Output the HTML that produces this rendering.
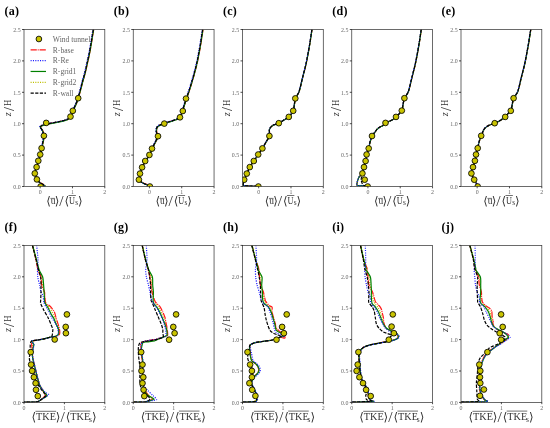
<!DOCTYPE html>
<html><head><meta charset="utf-8"><title>Profiles</title>
<style>
html,body{margin:0;padding:0;background:#fff;}
svg{display:block;filter:blur(0.35px);}
text{font-family:'Liberation Serif','DejaVu Serif',serif;}
.tk{font-size:5.9px;fill:#666;}
.pl{font-size:12px;font-weight:bold;fill:#000;letter-spacing:0.3px;}
.al{font-size:10.2px;fill:#333;}
.lg{font-size:7.6px;fill:#666;}
.br{font-family:'DejaVu Serif',serif;font-size:11.8px;fill:#333;}
.sl{font-size:15.5px;fill:#333;}
.sly{font-size:14px;fill:#333;}
.sb{font-size:7.4px;fill:#333;}
</style></head><body>
<svg width="550" height="428" viewBox="0 0 550 428">
<rect width="550" height="428" fill="#fff"/>
<clipPath id="c00"><rect x="24.0" y="29.5" width="80.8" height="157.0"/></clipPath>
<g clip-path="url(#c00)">
<path d="M93.40,29.50 C93.25,30.37 92.62,34.07 92.30,36.00 C91.98,37.93 91.41,41.60 91.00,44.00 C90.59,46.40 89.71,51.47 89.20,54.00 C88.69,56.53 87.73,60.60 87.20,63.00 C86.67,65.40 85.84,69.47 85.20,72.00 C84.56,74.53 83.05,79.60 82.40,82.00 C81.75,84.40 80.81,88.27 80.35,90.00 C79.89,91.73 79.22,93.91 78.95,95.00 C78.68,96.09 78.73,96.93 78.30,98.20 C77.87,99.47 76.39,102.86 75.70,104.50 C75.01,106.14 73.71,109.03 73.10,110.50 C72.49,111.97 71.59,114.53 71.10,115.50 C70.61,116.47 69.97,117.25 69.40,117.80 C68.83,118.35 68.09,119.11 66.80,119.60 C65.51,120.09 61.93,121.01 59.70,121.50 C57.47,121.99 51.89,122.97 50.10,123.30 C48.31,123.63 47.34,123.73 46.30,124.00 C45.26,124.27 43.13,124.91 42.30,125.30 C41.47,125.69 40.10,126.25 40.10,126.90 C40.10,127.55 41.78,129.01 42.30,130.20 C42.82,131.39 43.92,134.23 44.00,135.80 C44.08,137.37 43.21,140.35 42.90,142.00 C42.59,143.65 42.05,146.53 41.70,148.20 C41.35,149.87 40.74,152.82 40.30,154.50 C39.86,156.18 38.88,159.12 38.40,160.80 C37.92,162.48 37.17,165.42 36.70,167.10 C36.23,168.78 34.86,171.76 34.90,173.40 C34.94,175.04 36.35,178.20 37.00,179.40 C37.65,180.60 38.79,181.59 39.80,182.40 C40.81,183.21 43.89,184.97 44.60,185.50 C45.31,186.03 45.03,186.28 45.10,186.40" fill="none" stroke="#bfbf00" stroke-width="1.2" stroke-linejoin="round" stroke-dasharray="1.05 1.3"/>
<path d="M93.75,29.50 C93.60,30.37 92.97,34.07 92.65,36.00 C92.33,37.93 91.76,41.60 91.35,44.00 C90.94,46.40 90.06,51.47 89.55,54.00 C89.04,56.53 88.08,60.60 87.55,63.00 C87.02,65.40 86.19,69.47 85.55,72.00 C84.91,74.53 83.40,79.60 82.75,82.00 C82.10,84.40 81.16,88.27 80.70,90.00 C80.24,91.73 79.57,93.91 79.30,95.00 C79.03,96.09 79.08,96.93 78.65,98.20 C78.22,99.47 76.74,102.86 76.05,104.50 C75.36,106.14 74.06,109.03 73.45,110.50 C72.84,111.97 71.94,114.53 71.45,115.50 C70.96,116.47 70.32,117.25 69.75,117.80 C69.18,118.35 68.44,119.11 67.15,119.60 C65.86,120.09 62.28,121.01 60.05,121.50 C57.82,121.99 52.24,122.97 50.45,123.30 C48.66,123.63 47.69,123.73 46.65,124.00 C45.61,124.27 43.48,124.91 42.65,125.30 C41.82,125.69 40.45,126.25 40.45,126.90 C40.45,127.55 42.13,129.01 42.65,130.20 C43.17,131.39 44.27,134.23 44.35,135.80 C44.43,137.37 43.56,140.35 43.25,142.00 C42.94,143.65 42.40,146.53 42.05,148.20 C41.70,149.87 41.09,152.82 40.65,154.50 C40.21,156.18 39.23,159.12 38.75,160.80 C38.27,162.48 37.52,165.42 37.05,167.10 C36.58,168.78 35.21,171.76 35.25,173.40 C35.29,175.04 36.70,178.20 37.35,179.40 C38.00,180.60 39.14,181.59 40.15,182.40 C41.16,183.21 44.24,184.97 44.95,185.50 C45.66,186.03 45.38,186.28 45.45,186.40" fill="none" stroke="#ff1a1a" stroke-width="1.2" stroke-linejoin="round" stroke-dasharray="6.2 0.9 1.0 0.9"/>
<path d="M93.55,29.80 C93.40,30.67 92.77,34.37 92.45,36.30 C92.13,38.23 91.56,41.90 91.15,44.30 C90.74,46.70 89.86,51.77 89.35,54.30 C88.84,56.83 87.88,60.90 87.35,63.30 C86.82,65.70 85.99,69.77 85.35,72.30 C84.71,74.83 83.20,79.90 82.55,82.30 C81.90,84.70 80.96,88.57 80.50,90.30 C80.04,92.03 79.37,94.21 79.10,95.30 C78.83,96.39 78.88,97.23 78.45,98.50 C78.02,99.77 76.54,103.16 75.85,104.80 C75.16,106.44 73.86,109.33 73.25,110.80 C72.64,112.27 71.74,114.83 71.25,115.80 C70.76,116.77 70.12,117.55 69.55,118.10 C68.98,118.65 68.24,119.41 66.95,119.90 C65.66,120.39 62.08,121.31 59.85,121.80 C57.62,122.29 52.04,123.27 50.25,123.60 C48.46,123.93 47.49,124.03 46.45,124.30 C45.41,124.57 43.28,125.21 42.45,125.60 C41.62,125.99 40.25,126.55 40.25,127.20 C40.25,127.85 41.93,129.31 42.45,130.50 C42.97,131.69 44.07,134.53 44.15,136.10 C44.23,137.67 43.36,140.65 43.05,142.30 C42.74,143.95 42.20,146.83 41.85,148.50 C41.50,150.17 40.89,153.12 40.45,154.80 C40.01,156.48 39.03,159.42 38.55,161.10 C38.07,162.78 37.32,165.72 36.85,167.40 C36.38,169.08 35.01,172.06 35.05,173.70 C35.09,175.34 36.50,178.50 37.15,179.70 C37.80,180.90 38.94,181.89 39.95,182.70 C40.96,183.51 44.04,185.27 44.75,185.80 C45.46,186.33 45.18,186.58 45.25,186.70" fill="none" stroke="#008000" stroke-width="1.2" stroke-linejoin="round"/>
<path d="M92.90,29.50 C92.75,30.37 92.12,34.07 91.80,36.00 C91.48,37.93 90.91,41.60 90.50,44.00 C90.09,46.40 89.21,51.47 88.70,54.00 C88.19,56.53 87.23,60.60 86.70,63.00 C86.17,65.40 85.34,69.47 84.70,72.00 C84.06,74.53 82.55,79.60 81.90,82.00 C81.25,84.40 80.31,88.27 79.85,90.00 C79.39,91.73 78.72,93.91 78.45,95.00 C78.18,96.09 78.23,96.93 77.80,98.20 C77.37,99.47 75.89,102.86 75.20,104.50 C74.51,106.14 73.21,109.03 72.60,110.50 C71.99,111.97 71.09,114.53 70.60,115.50 C70.11,116.47 69.47,117.25 68.90,117.80 C68.33,118.35 67.59,119.11 66.30,119.60 C65.01,120.09 61.43,121.01 59.20,121.50 C56.97,121.99 51.39,122.97 49.60,123.30 C47.81,123.63 46.84,123.73 45.80,124.00 C44.76,124.27 42.63,124.91 41.80,125.30 C40.97,125.69 39.60,126.25 39.60,126.90 C39.60,127.55 41.28,129.01 41.80,130.20 C42.32,131.39 43.42,134.23 43.50,135.80 C43.58,137.37 42.71,140.35 42.40,142.00 C42.09,143.65 41.55,146.53 41.20,148.20 C40.85,149.87 40.24,152.82 39.80,154.50 C39.36,156.18 38.38,159.12 37.90,160.80 C37.42,162.48 36.67,165.42 36.20,167.10 C35.73,168.78 34.36,171.76 34.40,173.40 C34.44,175.04 35.85,178.20 36.50,179.40 C37.15,180.60 38.29,181.59 39.30,182.40 C40.31,183.21 43.39,184.97 44.10,185.50 C44.81,186.03 44.53,186.28 44.60,186.40" fill="none" stroke="#1a1aff" stroke-width="1.2" stroke-linejoin="round" stroke-dasharray="1.05 1.3"/>
<path d="M93.30,29.50 C93.15,30.37 92.52,34.07 92.20,36.00 C91.88,37.93 91.31,41.60 90.90,44.00 C90.49,46.40 89.61,51.47 89.10,54.00 C88.59,56.53 87.63,60.60 87.10,63.00 C86.57,65.40 85.74,69.47 85.10,72.00 C84.46,74.53 82.95,79.60 82.30,82.00 C81.65,84.40 80.71,88.27 80.25,90.00 C79.79,91.73 79.12,93.91 78.85,95.00 C78.58,96.09 78.63,96.93 78.20,98.20 C77.77,99.47 76.29,102.86 75.60,104.50 C74.91,106.14 73.61,109.03 73.00,110.50 C72.39,111.97 71.49,114.53 71.00,115.50 C70.51,116.47 69.87,117.25 69.30,117.80 C68.73,118.35 67.99,119.11 66.70,119.60 C65.41,120.09 61.83,121.01 59.60,121.50 C57.37,121.99 51.79,122.97 50.00,123.30 C48.21,123.63 47.24,123.73 46.20,124.00 C45.16,124.27 43.03,124.91 42.20,125.30 C41.37,125.69 40.00,126.25 40.00,126.90 C40.00,127.55 41.68,129.01 42.20,130.20 C42.72,131.39 43.82,134.23 43.90,135.80 C43.98,137.37 43.11,140.35 42.80,142.00 C42.49,143.65 41.95,146.53 41.60,148.20 C41.25,149.87 40.64,152.82 40.20,154.50 C39.76,156.18 38.78,159.12 38.30,160.80 C37.82,162.48 37.07,165.42 36.60,167.10 C36.13,168.78 34.76,171.76 34.80,173.40 C34.84,175.04 36.25,178.20 36.90,179.40 C37.55,180.60 38.69,181.59 39.70,182.40 C40.71,183.21 43.79,184.97 44.50,185.50 C45.21,186.03 44.93,186.28 45.00,186.40" fill="none" stroke="#000000" stroke-width="1.2" stroke-linejoin="round" stroke-dasharray="3.2 1.4"/>
<g fill="#cac400" stroke="#000" stroke-width="0.85"><circle cx="78.20" cy="98.20" r="2.85"/><circle cx="72.80" cy="110.80" r="2.85"/><circle cx="70.50" cy="116.60" r="2.85"/><circle cx="46.20" cy="122.90" r="2.85"/><circle cx="43.90" cy="135.80" r="2.85"/><circle cx="41.60" cy="148.20" r="2.85"/><circle cx="40.20" cy="154.50" r="2.85"/><circle cx="38.30" cy="160.80" r="2.85"/><circle cx="36.60" cy="167.10" r="2.85"/><circle cx="34.80" cy="173.40" r="2.85"/><circle cx="36.90" cy="179.40" r="2.85"/><circle cx="40.60" cy="186.50" r="2.85"/></g>
</g>
<rect x="24.0" y="29.5" width="80.8" height="157.0" fill="none" stroke="#3a3a3a" stroke-width="0.75"/>
<line x1="22.0" y1="186.50" x2="24.0" y2="186.50" stroke="#000" stroke-width="0.7"/>
<text x="20.70" y="188.70" text-anchor="end" class="tk">0.0</text>
<line x1="22.0" y1="155.10" x2="24.0" y2="155.10" stroke="#000" stroke-width="0.7"/>
<text x="20.70" y="157.30" text-anchor="end" class="tk">0.5</text>
<line x1="22.0" y1="123.70" x2="24.0" y2="123.70" stroke="#000" stroke-width="0.7"/>
<text x="20.70" y="125.90" text-anchor="end" class="tk">1.0</text>
<line x1="22.0" y1="92.30" x2="24.0" y2="92.30" stroke="#000" stroke-width="0.7"/>
<text x="20.70" y="94.50" text-anchor="end" class="tk">1.5</text>
<line x1="22.0" y1="60.90" x2="24.0" y2="60.90" stroke="#000" stroke-width="0.7"/>
<text x="20.70" y="63.10" text-anchor="end" class="tk">2.0</text>
<line x1="22.0" y1="29.50" x2="24.0" y2="29.50" stroke="#000" stroke-width="0.7"/>
<text x="20.70" y="31.70" text-anchor="end" class="tk">2.5</text>
<line x1="40.16" y1="186.5" x2="40.16" y2="188.3" stroke="#000" stroke-width="0.7"/>
<text x="40.16" y="193.80" text-anchor="middle" class="tk">0</text>
<line x1="72.48" y1="186.5" x2="72.48" y2="188.3" stroke="#000" stroke-width="0.7"/>
<text x="72.48" y="193.80" text-anchor="middle" class="tk">1</text>
<line x1="104.80" y1="186.5" x2="104.80" y2="188.3" stroke="#000" stroke-width="0.7"/>
<text x="104.80" y="193.80" text-anchor="middle" class="tk">2</text>
<text x="4.40" y="14.90" class="pl">(a)</text>
<g transform="translate(11.20 108.10) rotate(-90)"><text x="-8.1" y="0" class="al" font-style="italic">z</text><text x="-3.0" y="2.4" class="sly">/</text><text x="2.2" y="0" class="al" textLength="6.3" lengthAdjust="spacingAndGlyphs">H</text></g>
<text x="46.15" y="205.10" class="br">⟨</text>
<text x="50.85" y="204.00" class="al" textLength="4.7" lengthAdjust="spacingAndGlyphs">u</text>
<text x="54.65" y="205.10" class="br">⟩</text>
<text x="59.25" y="206.20" class="sl">/</text>
<text x="64.45" y="205.10" class="br">⟨</text>
<text x="68.90" y="204.00" class="al" textLength="6.0" lengthAdjust="spacingAndGlyphs">U</text>
<text x="75.30" y="204.70" class="sb">s</text>
<text x="78.05" y="205.10" class="br">⟩</text>
<line x1="50.45" y1="198.40" x2="55.05" y2="198.40" stroke="#333" stroke-width="0.7"/>
<line x1="68.45" y1="195.50" x2="75.85" y2="195.50" stroke="#333" stroke-width="0.7"/>
<clipPath id="c01"><rect x="133.25" y="29.5" width="80.8" height="157.0"/></clipPath>
<g clip-path="url(#c01)">
<path d="M202.70,29.50 C202.39,31.53 201.12,40.50 200.40,44.70 C199.68,48.90 198.18,56.95 197.30,61.00 C196.42,65.05 194.83,71.35 193.80,75.10 C192.77,78.85 190.59,85.99 189.60,89.10 C188.61,92.21 187.09,96.35 186.40,98.40 C185.71,100.45 184.91,102.87 184.40,104.50 C183.89,106.13 183.15,108.92 182.60,110.60 C182.05,112.28 181.05,115.97 180.30,117.10 C179.55,118.23 178.12,118.59 177.00,119.10 C175.88,119.61 173.06,120.51 171.90,120.90 C170.74,121.29 169.30,121.67 168.30,122.00 C167.30,122.33 165.47,123.01 164.40,123.40 C163.33,123.79 161.14,124.55 160.30,124.90 C159.46,125.25 158.59,125.56 158.10,126.00 C157.61,126.44 156.84,127.52 156.60,128.20 C156.36,128.88 156.25,130.33 156.30,131.10 C156.35,131.87 156.76,133.32 157.00,134.00 C157.24,134.68 158.35,135.07 158.10,136.20 C157.85,137.33 155.90,140.85 155.10,142.50 C154.30,144.15 152.85,146.95 152.10,148.60 C151.35,150.25 150.41,153.25 149.50,154.90 C148.59,156.55 146.27,159.35 145.30,161.00 C144.33,162.65 142.89,165.62 142.20,167.30 C141.51,168.98 140.53,171.95 140.10,173.60 C139.67,175.25 138.60,178.45 139.00,179.70 C139.40,180.95 141.63,182.17 143.10,183.00 C144.57,183.83 149.08,185.51 150.00,185.90" fill="none" stroke="#bfbf00" stroke-width="1.2" stroke-linejoin="round" stroke-dasharray="1.05 1.3"/>
<path d="M203.05,29.50 C202.74,31.53 201.47,40.50 200.75,44.70 C200.03,48.90 198.53,56.95 197.65,61.00 C196.77,65.05 195.18,71.35 194.15,75.10 C193.12,78.85 190.94,85.99 189.95,89.10 C188.96,92.21 187.44,96.35 186.75,98.40 C186.06,100.45 185.26,102.87 184.75,104.50 C184.24,106.13 183.50,108.92 182.95,110.60 C182.40,112.28 181.40,115.97 180.65,117.10 C179.90,118.23 178.47,118.59 177.35,119.10 C176.23,119.61 173.41,120.51 172.25,120.90 C171.09,121.29 169.65,121.67 168.65,122.00 C167.65,122.33 165.82,123.01 164.75,123.40 C163.68,123.79 161.49,124.55 160.65,124.90 C159.81,125.25 158.94,125.56 158.45,126.00 C157.96,126.44 157.19,127.52 156.95,128.20 C156.71,128.88 156.60,130.33 156.65,131.10 C156.70,131.87 157.11,133.32 157.35,134.00 C157.59,134.68 158.70,135.07 158.45,136.20 C158.20,137.33 156.25,140.85 155.45,142.50 C154.65,144.15 153.20,146.95 152.45,148.60 C151.70,150.25 150.76,153.25 149.85,154.90 C148.94,156.55 146.62,159.35 145.65,161.00 C144.68,162.65 143.24,165.62 142.55,167.30 C141.86,168.98 140.88,171.95 140.45,173.60 C140.02,175.25 138.95,178.45 139.35,179.70 C139.75,180.95 141.98,182.17 143.45,183.00 C144.92,183.83 149.43,185.51 150.35,185.90" fill="none" stroke="#ff1a1a" stroke-width="1.2" stroke-linejoin="round" stroke-dasharray="6.2 0.9 1.0 0.9"/>
<path d="M202.85,29.80 C202.54,31.83 201.27,40.80 200.55,45.00 C199.83,49.20 198.33,57.25 197.45,61.30 C196.57,65.35 194.98,71.65 193.95,75.40 C192.92,79.15 190.74,86.29 189.75,89.40 C188.76,92.51 187.24,96.65 186.55,98.70 C185.86,100.75 185.06,103.17 184.55,104.80 C184.04,106.43 183.30,109.22 182.75,110.90 C182.20,112.58 181.20,116.27 180.45,117.40 C179.70,118.53 178.27,118.89 177.15,119.40 C176.03,119.91 173.21,120.81 172.05,121.20 C170.89,121.59 169.45,121.97 168.45,122.30 C167.45,122.63 165.62,123.31 164.55,123.70 C163.48,124.09 161.29,124.85 160.45,125.20 C159.61,125.55 158.74,125.86 158.25,126.30 C157.76,126.74 156.99,127.82 156.75,128.50 C156.51,129.18 156.40,130.63 156.45,131.40 C156.50,132.17 156.91,133.62 157.15,134.30 C157.39,134.98 158.50,135.37 158.25,136.50 C158.00,137.63 156.05,141.15 155.25,142.80 C154.45,144.45 153.00,147.25 152.25,148.90 C151.50,150.55 150.56,153.55 149.65,155.20 C148.74,156.85 146.42,159.65 145.45,161.30 C144.48,162.95 143.04,165.92 142.35,167.60 C141.66,169.28 140.68,172.25 140.25,173.90 C139.82,175.55 138.75,178.75 139.15,180.00 C139.55,181.25 141.78,182.47 143.25,183.30 C144.72,184.13 149.23,185.81 150.15,186.20" fill="none" stroke="#008000" stroke-width="1.2" stroke-linejoin="round"/>
<path d="M202.20,29.50 C201.89,31.53 200.62,40.50 199.90,44.70 C199.18,48.90 197.68,56.95 196.80,61.00 C195.92,65.05 194.33,71.35 193.30,75.10 C192.27,78.85 190.09,85.99 189.10,89.10 C188.11,92.21 186.59,96.35 185.90,98.40 C185.21,100.45 184.41,102.87 183.90,104.50 C183.39,106.13 182.65,108.92 182.10,110.60 C181.55,112.28 180.55,115.97 179.80,117.10 C179.05,118.23 177.62,118.59 176.50,119.10 C175.38,119.61 172.56,120.51 171.40,120.90 C170.24,121.29 168.80,121.67 167.80,122.00 C166.80,122.33 164.97,123.01 163.90,123.40 C162.83,123.79 160.64,124.55 159.80,124.90 C158.96,125.25 158.09,125.56 157.60,126.00 C157.11,126.44 156.34,127.52 156.10,128.20 C155.86,128.88 155.75,130.33 155.80,131.10 C155.85,131.87 156.26,133.32 156.50,134.00 C156.74,134.68 157.85,135.07 157.60,136.20 C157.35,137.33 155.40,140.85 154.60,142.50 C153.80,144.15 152.35,146.95 151.60,148.60 C150.85,150.25 149.91,153.25 149.00,154.90 C148.09,156.55 145.77,159.35 144.80,161.00 C143.83,162.65 142.39,165.62 141.70,167.30 C141.01,168.98 140.03,171.95 139.60,173.60 C139.17,175.25 138.10,178.45 138.50,179.70 C138.90,180.95 141.13,182.17 142.60,183.00 C144.07,183.83 148.58,185.51 149.50,185.90" fill="none" stroke="#1a1aff" stroke-width="1.2" stroke-linejoin="round" stroke-dasharray="1.05 1.3"/>
<path d="M202.60,29.50 C202.29,31.53 201.02,40.50 200.30,44.70 C199.58,48.90 198.08,56.95 197.20,61.00 C196.32,65.05 194.73,71.35 193.70,75.10 C192.67,78.85 190.49,85.99 189.50,89.10 C188.51,92.21 186.99,96.35 186.30,98.40 C185.61,100.45 184.81,102.87 184.30,104.50 C183.79,106.13 183.05,108.92 182.50,110.60 C181.95,112.28 180.95,115.97 180.20,117.10 C179.45,118.23 178.02,118.59 176.90,119.10 C175.78,119.61 172.96,120.51 171.80,120.90 C170.64,121.29 169.20,121.67 168.20,122.00 C167.20,122.33 165.37,123.01 164.30,123.40 C163.23,123.79 161.04,124.55 160.20,124.90 C159.36,125.25 158.49,125.56 158.00,126.00 C157.51,126.44 156.74,127.52 156.50,128.20 C156.26,128.88 156.15,130.33 156.20,131.10 C156.25,131.87 156.66,133.32 156.90,134.00 C157.14,134.68 158.25,135.07 158.00,136.20 C157.75,137.33 155.80,140.85 155.00,142.50 C154.20,144.15 152.75,146.95 152.00,148.60 C151.25,150.25 150.31,153.25 149.40,154.90 C148.49,156.55 146.17,159.35 145.20,161.00 C144.23,162.65 142.79,165.62 142.10,167.30 C141.41,168.98 140.43,171.95 140.00,173.60 C139.57,175.25 138.50,178.45 138.90,179.70 C139.30,180.95 141.53,182.17 143.00,183.00 C144.47,183.83 148.98,185.51 149.90,185.90" fill="none" stroke="#000000" stroke-width="1.2" stroke-linejoin="round" stroke-dasharray="3.2 1.4"/>
<g fill="#cac400" stroke="#000" stroke-width="0.85"><circle cx="186.00" cy="98.60" r="2.85"/><circle cx="182.80" cy="111.00" r="2.85"/><circle cx="180.00" cy="117.30" r="2.85"/><circle cx="164.30" cy="123.60" r="2.85"/><circle cx="158.00" cy="136.20" r="2.85"/><circle cx="152.00" cy="148.60" r="2.85"/><circle cx="149.40" cy="154.90" r="2.85"/><circle cx="145.20" cy="161.00" r="2.85"/><circle cx="142.10" cy="167.30" r="2.85"/><circle cx="140.00" cy="173.60" r="2.85"/><circle cx="138.90" cy="179.70" r="2.85"/><circle cx="149.90" cy="186.50" r="2.85"/></g>
</g>
<rect x="133.25" y="29.5" width="80.8" height="157.0" fill="none" stroke="#3a3a3a" stroke-width="0.75"/>
<line x1="131.25" y1="186.50" x2="133.25" y2="186.50" stroke="#000" stroke-width="0.7"/>
<text x="129.95" y="188.70" text-anchor="end" class="tk">0.0</text>
<line x1="131.25" y1="155.10" x2="133.25" y2="155.10" stroke="#000" stroke-width="0.7"/>
<text x="129.95" y="157.30" text-anchor="end" class="tk">0.5</text>
<line x1="131.25" y1="123.70" x2="133.25" y2="123.70" stroke="#000" stroke-width="0.7"/>
<text x="129.95" y="125.90" text-anchor="end" class="tk">1.0</text>
<line x1="131.25" y1="92.30" x2="133.25" y2="92.30" stroke="#000" stroke-width="0.7"/>
<text x="129.95" y="94.50" text-anchor="end" class="tk">1.5</text>
<line x1="131.25" y1="60.90" x2="133.25" y2="60.90" stroke="#000" stroke-width="0.7"/>
<text x="129.95" y="63.10" text-anchor="end" class="tk">2.0</text>
<line x1="131.25" y1="29.50" x2="133.25" y2="29.50" stroke="#000" stroke-width="0.7"/>
<text x="129.95" y="31.70" text-anchor="end" class="tk">2.5</text>
<line x1="149.41" y1="186.5" x2="149.41" y2="188.3" stroke="#000" stroke-width="0.7"/>
<text x="149.41" y="193.80" text-anchor="middle" class="tk">0</text>
<line x1="181.73" y1="186.5" x2="181.73" y2="188.3" stroke="#000" stroke-width="0.7"/>
<text x="181.73" y="193.80" text-anchor="middle" class="tk">1</text>
<line x1="214.05" y1="186.5" x2="214.05" y2="188.3" stroke="#000" stroke-width="0.7"/>
<text x="214.05" y="193.80" text-anchor="middle" class="tk">2</text>
<text x="113.65" y="14.90" class="pl">(b)</text>
<g transform="translate(120.45 108.10) rotate(-90)"><text x="-8.1" y="0" class="al" font-style="italic">z</text><text x="-3.0" y="2.4" class="sly">/</text><text x="2.2" y="0" class="al" textLength="6.3" lengthAdjust="spacingAndGlyphs">H</text></g>
<text x="155.40" y="205.10" class="br">⟨</text>
<text x="160.10" y="204.00" class="al" textLength="4.7" lengthAdjust="spacingAndGlyphs">u</text>
<text x="163.90" y="205.10" class="br">⟩</text>
<text x="168.50" y="206.20" class="sl">/</text>
<text x="173.70" y="205.10" class="br">⟨</text>
<text x="178.15" y="204.00" class="al" textLength="6.0" lengthAdjust="spacingAndGlyphs">U</text>
<text x="184.55" y="204.70" class="sb">s</text>
<text x="187.30" y="205.10" class="br">⟩</text>
<line x1="159.70" y1="198.40" x2="164.30" y2="198.40" stroke="#333" stroke-width="0.7"/>
<line x1="177.70" y1="195.50" x2="185.10" y2="195.50" stroke="#333" stroke-width="0.7"/>
<clipPath id="c02"><rect x="242.5" y="29.5" width="80.8" height="157.0"/></clipPath>
<g clip-path="url(#c02)">
<path d="M311.93,29.50 C311.62,31.53 310.40,40.18 309.63,44.70 C308.86,49.22 307.06,59.04 306.13,63.40 C305.20,67.76 303.56,73.67 302.63,77.40 C301.70,81.13 300.06,88.65 299.13,91.40 C298.20,94.15 296.27,96.25 295.63,98.00 C294.99,99.75 294.65,102.79 294.33,104.50 C294.01,106.21 293.96,109.15 293.23,110.80 C292.50,112.45 290.12,115.65 288.83,116.90 C287.54,118.15 284.86,119.36 283.53,120.20 C282.20,121.04 280.15,122.57 278.83,123.20 C277.51,123.83 274.60,124.47 273.63,124.90 C272.66,125.33 272.01,125.96 271.53,126.40 C271.05,126.84 270.32,127.67 270.03,128.20 C269.74,128.73 269.41,129.36 269.33,130.40 C269.25,131.44 269.87,134.45 269.43,136.00 C268.99,137.55 266.96,140.35 266.03,142.00 C265.10,143.65 263.47,146.73 262.43,148.40 C261.39,150.07 259.38,152.82 258.23,154.50 C257.08,156.18 254.95,159.32 253.83,161.00 C252.71,162.68 250.76,165.42 249.83,167.10 C248.90,168.78 247.58,171.92 246.83,173.60 C246.08,175.28 244.67,178.14 244.23,179.70 C243.79,181.26 242.76,184.46 243.53,185.30 C244.30,186.14 248.04,185.88 250.03,186.00 C252.02,186.12 257.31,186.17 258.43,186.20" fill="none" stroke="#bfbf00" stroke-width="1.2" stroke-linejoin="round" stroke-dasharray="1.05 1.3"/>
<path d="M312.03,29.50 C311.73,31.53 310.51,40.18 309.74,44.70 C308.96,49.22 307.17,59.04 306.24,63.40 C305.30,67.76 303.67,73.67 302.74,77.40 C301.80,81.13 300.17,88.65 299.24,91.40 C298.30,94.15 296.38,96.25 295.74,98.00 C295.10,99.75 294.75,102.79 294.44,104.50 C294.12,106.21 294.07,109.15 293.33,110.80 C292.60,112.45 290.23,115.65 288.94,116.90 C287.64,118.15 284.97,119.36 283.63,120.20 C282.30,121.04 280.25,122.57 278.94,123.20 C277.62,123.83 274.71,124.47 273.74,124.90 C272.76,125.33 272.12,125.96 271.63,126.40 C271.15,126.84 270.43,127.67 270.13,128.20 C269.84,128.73 269.51,129.36 269.44,130.40 C269.36,131.44 269.97,134.45 269.53,136.00 C269.09,137.55 267.07,140.35 266.13,142.00 C265.20,143.65 263.57,146.73 262.53,148.40 C261.49,150.07 259.48,152.82 258.33,154.50 C257.19,156.18 255.06,159.32 253.94,161.00 C252.81,162.68 250.87,165.42 249.94,167.10 C249.00,168.78 247.68,171.92 246.94,173.60 C246.19,175.28 244.77,178.14 244.33,179.70 C243.89,181.26 242.86,184.46 243.63,185.30 C244.41,186.14 248.15,185.88 250.13,186.00 C252.12,186.12 257.41,186.17 258.53,186.20" fill="none" stroke="#ff1a1a" stroke-width="1.2" stroke-linejoin="round" stroke-dasharray="6.2 0.9 1.0 0.9"/>
<path d="M311.97,29.59 C311.67,31.62 310.45,40.27 309.68,44.79 C308.90,49.31 307.11,59.13 306.18,63.49 C305.24,67.85 303.61,73.76 302.68,77.49 C301.74,81.22 300.11,88.74 299.18,91.49 C298.24,94.24 296.31,96.34 295.68,98.09 C295.04,99.84 294.69,102.88 294.38,104.59 C294.06,106.30 294.01,109.24 293.27,110.89 C292.54,112.54 290.17,115.74 288.88,116.99 C287.58,118.24 284.91,119.45 283.57,120.29 C282.24,121.13 280.19,122.66 278.88,123.29 C277.56,123.92 274.65,124.56 273.68,124.99 C272.70,125.42 272.06,126.05 271.57,126.49 C271.09,126.93 270.37,127.76 270.07,128.29 C269.78,128.82 269.45,129.45 269.38,130.49 C269.30,131.53 269.91,134.54 269.47,136.09 C269.03,137.64 267.01,140.44 266.07,142.09 C265.14,143.74 263.51,146.82 262.47,148.49 C261.43,150.16 259.42,152.91 258.27,154.59 C257.13,156.27 255.00,159.41 253.88,161.09 C252.75,162.77 250.81,165.51 249.88,167.19 C248.94,168.87 247.62,172.01 246.88,173.69 C246.13,175.37 244.71,178.23 244.27,179.79 C243.83,181.35 242.80,184.55 243.57,185.39 C244.35,186.23 248.09,185.97 250.07,186.09 C252.06,186.21 257.35,186.26 258.47,186.29" fill="none" stroke="#008000" stroke-width="1.2" stroke-linejoin="round"/>
<path d="M311.78,29.50 C311.47,31.53 310.25,40.18 309.48,44.70 C308.71,49.22 306.91,59.04 305.98,63.40 C305.05,67.76 303.41,73.67 302.48,77.40 C301.55,81.13 299.91,88.65 298.98,91.40 C298.05,94.15 296.12,96.25 295.48,98.00 C294.84,99.75 294.50,102.79 294.18,104.50 C293.86,106.21 293.81,109.15 293.08,110.80 C292.35,112.45 289.97,115.65 288.68,116.90 C287.39,118.15 284.71,119.36 283.38,120.20 C282.05,121.04 280.00,122.57 278.68,123.20 C277.36,123.83 274.45,124.47 273.48,124.90 C272.51,125.33 271.86,125.96 271.38,126.40 C270.90,126.84 270.17,127.67 269.88,128.20 C269.59,128.73 269.26,129.36 269.18,130.40 C269.10,131.44 269.72,134.45 269.28,136.00 C268.84,137.55 266.81,140.35 265.88,142.00 C264.95,143.65 263.32,146.73 262.28,148.40 C261.24,150.07 259.23,152.82 258.08,154.50 C256.93,156.18 254.80,159.32 253.68,161.00 C252.56,162.68 250.61,165.42 249.68,167.10 C248.75,168.78 247.43,171.92 246.68,173.60 C245.93,175.28 244.52,178.14 244.08,179.70 C243.64,181.26 242.61,184.46 243.38,185.30 C244.15,186.14 247.89,185.88 249.88,186.00 C251.87,186.12 257.16,186.17 258.28,186.20" fill="none" stroke="#1a1aff" stroke-width="1.2" stroke-linejoin="round" stroke-dasharray="1.05 1.3"/>
<path d="M311.90,29.50 C311.59,31.53 310.37,40.18 309.60,44.70 C308.83,49.22 307.03,59.04 306.10,63.40 C305.17,67.76 303.53,73.67 302.60,77.40 C301.67,81.13 300.03,88.65 299.10,91.40 C298.17,94.15 296.24,96.25 295.60,98.00 C294.96,99.75 294.62,102.79 294.30,104.50 C293.98,106.21 293.93,109.15 293.20,110.80 C292.47,112.45 290.09,115.65 288.80,116.90 C287.51,118.15 284.83,119.36 283.50,120.20 C282.17,121.04 280.12,122.57 278.80,123.20 C277.48,123.83 274.57,124.47 273.60,124.90 C272.63,125.33 271.98,125.96 271.50,126.40 C271.02,126.84 270.29,127.67 270.00,128.20 C269.71,128.73 269.38,129.36 269.30,130.40 C269.22,131.44 269.84,134.45 269.40,136.00 C268.96,137.55 266.93,140.35 266.00,142.00 C265.07,143.65 263.44,146.73 262.40,148.40 C261.36,150.07 259.35,152.82 258.20,154.50 C257.05,156.18 254.92,159.32 253.80,161.00 C252.68,162.68 250.73,165.42 249.80,167.10 C248.87,168.78 247.55,171.92 246.80,173.60 C246.05,175.28 244.64,178.14 244.20,179.70 C243.76,181.26 242.73,184.46 243.50,185.30 C244.27,186.14 248.01,185.88 250.00,186.00 C251.99,186.12 257.28,186.17 258.40,186.20" fill="none" stroke="#000000" stroke-width="1.2" stroke-linejoin="round" stroke-dasharray="3.2 1.4"/>
<g fill="#cac400" stroke="#000" stroke-width="0.85"><circle cx="295.30" cy="98.40" r="2.85"/><circle cx="293.20" cy="110.80" r="2.85"/><circle cx="288.80" cy="116.90" r="2.85"/><circle cx="278.80" cy="123.20" r="2.85"/><circle cx="269.40" cy="136.00" r="2.85"/><circle cx="262.40" cy="148.40" r="2.85"/><circle cx="258.20" cy="154.50" r="2.85"/><circle cx="253.80" cy="161.00" r="2.85"/><circle cx="249.80" cy="167.10" r="2.85"/><circle cx="246.80" cy="173.60" r="2.85"/><circle cx="244.20" cy="179.70" r="2.85"/><circle cx="258.40" cy="186.50" r="2.85"/></g>
</g>
<rect x="242.5" y="29.5" width="80.8" height="157.0" fill="none" stroke="#3a3a3a" stroke-width="0.75"/>
<line x1="240.5" y1="186.50" x2="242.5" y2="186.50" stroke="#000" stroke-width="0.7"/>
<text x="239.20" y="188.70" text-anchor="end" class="tk">0.0</text>
<line x1="240.5" y1="155.10" x2="242.5" y2="155.10" stroke="#000" stroke-width="0.7"/>
<text x="239.20" y="157.30" text-anchor="end" class="tk">0.5</text>
<line x1="240.5" y1="123.70" x2="242.5" y2="123.70" stroke="#000" stroke-width="0.7"/>
<text x="239.20" y="125.90" text-anchor="end" class="tk">1.0</text>
<line x1="240.5" y1="92.30" x2="242.5" y2="92.30" stroke="#000" stroke-width="0.7"/>
<text x="239.20" y="94.50" text-anchor="end" class="tk">1.5</text>
<line x1="240.5" y1="60.90" x2="242.5" y2="60.90" stroke="#000" stroke-width="0.7"/>
<text x="239.20" y="63.10" text-anchor="end" class="tk">2.0</text>
<line x1="240.5" y1="29.50" x2="242.5" y2="29.50" stroke="#000" stroke-width="0.7"/>
<text x="239.20" y="31.70" text-anchor="end" class="tk">2.5</text>
<line x1="258.66" y1="186.5" x2="258.66" y2="188.3" stroke="#000" stroke-width="0.7"/>
<text x="258.66" y="193.80" text-anchor="middle" class="tk">0</text>
<line x1="290.98" y1="186.5" x2="290.98" y2="188.3" stroke="#000" stroke-width="0.7"/>
<text x="290.98" y="193.80" text-anchor="middle" class="tk">1</text>
<line x1="323.30" y1="186.5" x2="323.30" y2="188.3" stroke="#000" stroke-width="0.7"/>
<text x="323.30" y="193.80" text-anchor="middle" class="tk">2</text>
<text x="222.90" y="14.90" class="pl">(c)</text>
<g transform="translate(229.70 108.10) rotate(-90)"><text x="-8.1" y="0" class="al" font-style="italic">z</text><text x="-3.0" y="2.4" class="sly">/</text><text x="2.2" y="0" class="al" textLength="6.3" lengthAdjust="spacingAndGlyphs">H</text></g>
<text x="264.65" y="205.10" class="br">⟨</text>
<text x="269.35" y="204.00" class="al" textLength="4.7" lengthAdjust="spacingAndGlyphs">u</text>
<text x="273.15" y="205.10" class="br">⟩</text>
<text x="277.75" y="206.20" class="sl">/</text>
<text x="282.95" y="205.10" class="br">⟨</text>
<text x="287.40" y="204.00" class="al" textLength="6.0" lengthAdjust="spacingAndGlyphs">U</text>
<text x="293.80" y="204.70" class="sb">s</text>
<text x="296.55" y="205.10" class="br">⟩</text>
<line x1="268.95" y1="198.40" x2="273.55" y2="198.40" stroke="#333" stroke-width="0.7"/>
<line x1="286.95" y1="195.50" x2="294.35" y2="195.50" stroke="#333" stroke-width="0.7"/>
<clipPath id="c03"><rect x="351.75" y="29.5" width="80.8" height="157.0"/></clipPath>
<g clip-path="url(#c03)">
<path d="M421.23,29.50 C420.92,31.53 419.70,40.18 418.93,44.70 C418.16,49.22 416.36,59.04 415.43,63.40 C414.50,67.76 412.86,73.67 411.93,77.40 C411.00,81.13 409.43,88.63 408.43,91.40 C407.43,94.17 405.15,96.45 404.43,98.20 C403.71,99.95 403.38,102.85 403.03,104.50 C402.68,106.15 402.76,108.95 401.83,110.60 C400.90,112.25 397.22,115.71 396.03,116.90 C394.84,118.09 393.73,118.97 392.93,119.50 C392.13,120.03 391.02,120.45 390.03,120.90 C389.04,121.35 386.50,122.27 385.53,122.90 C384.56,123.53 383.49,125.04 382.73,125.60 C381.97,126.16 380.60,126.61 379.83,127.10 C379.06,127.59 377.61,128.58 376.93,129.30 C376.25,130.02 375.36,131.67 374.73,132.50 C374.10,133.33 372.86,134.23 372.23,135.50 C371.60,136.77 370.50,140.28 370.03,142.00 C369.56,143.72 369.18,146.73 368.73,148.40 C368.28,150.07 367.04,152.82 366.63,154.50 C366.22,156.18 365.98,159.32 365.63,161.00 C365.28,162.68 364.46,165.45 364.03,167.10 C363.60,168.75 363.08,172.11 362.43,173.40 C361.78,174.69 359.76,175.88 359.13,176.80 C358.50,177.72 358.04,179.37 357.73,180.30 C357.42,181.23 356.90,183.12 356.83,183.80 C356.76,184.48 356.54,185.16 357.23,185.40 C357.92,185.64 360.59,185.52 362.03,185.60 C363.47,185.68 367.23,185.95 368.03,186.00" fill="none" stroke="#bfbf00" stroke-width="1.2" stroke-linejoin="round" stroke-dasharray="1.05 1.3"/>
<path d="M421.33,29.50 C421.03,31.53 419.81,40.18 419.03,44.70 C418.26,49.22 416.47,59.04 415.53,63.40 C414.60,67.76 412.97,73.67 412.03,77.40 C411.10,81.13 409.53,88.63 408.53,91.40 C407.53,94.17 405.25,96.45 404.53,98.20 C403.81,99.95 403.48,102.85 403.13,104.50 C402.79,106.15 402.87,108.95 401.94,110.60 C401.00,112.25 397.32,115.71 396.13,116.90 C394.95,118.09 393.83,118.97 393.03,119.50 C392.23,120.03 391.12,120.45 390.13,120.90 C389.15,121.35 386.61,122.27 385.63,122.90 C384.66,123.53 383.59,125.04 382.83,125.60 C382.07,126.16 380.71,126.61 379.94,127.10 C379.16,127.59 377.71,128.58 377.03,129.30 C376.35,130.02 375.46,131.67 374.83,132.50 C374.21,133.33 372.96,134.23 372.33,135.50 C371.71,136.77 370.60,140.28 370.13,142.00 C369.67,143.72 369.29,146.73 368.83,148.40 C368.38,150.07 367.15,152.82 366.74,154.50 C366.32,156.18 366.08,159.32 365.74,161.00 C365.39,162.68 364.56,165.45 364.13,167.10 C363.71,168.75 363.19,172.11 362.53,173.40 C361.88,174.69 359.86,175.88 359.24,176.80 C358.61,177.72 358.14,179.37 357.83,180.30 C357.53,181.23 357.00,183.12 356.94,183.80 C356.87,184.48 356.64,185.16 357.33,185.40 C358.03,185.64 360.69,185.52 362.13,185.60 C363.57,185.68 367.33,185.95 368.13,186.00" fill="none" stroke="#ff1a1a" stroke-width="1.2" stroke-linejoin="round" stroke-dasharray="6.2 0.9 1.0 0.9"/>
<path d="M421.27,29.59 C420.97,31.62 419.75,40.27 418.97,44.79 C418.20,49.31 416.41,59.13 415.47,63.49 C414.54,67.85 412.91,73.76 411.97,77.49 C411.04,81.22 409.47,88.72 408.47,91.49 C407.47,94.26 405.19,96.54 404.47,98.29 C403.75,100.04 403.42,102.94 403.07,104.59 C402.73,106.24 402.81,109.04 401.88,110.69 C400.94,112.34 397.26,115.80 396.07,116.99 C394.89,118.18 393.77,119.06 392.97,119.59 C392.17,120.12 391.06,120.54 390.07,120.99 C389.09,121.44 386.55,122.36 385.57,122.99 C384.60,123.62 383.53,125.13 382.77,125.69 C382.01,126.25 380.65,126.70 379.88,127.19 C379.10,127.68 377.65,128.67 376.97,129.39 C376.29,130.11 375.40,131.76 374.77,132.59 C374.15,133.42 372.90,134.32 372.27,135.59 C371.65,136.86 370.54,140.37 370.07,142.09 C369.61,143.81 369.23,146.82 368.77,148.49 C368.32,150.16 367.09,152.91 366.68,154.59 C366.26,156.27 366.02,159.41 365.68,161.09 C365.33,162.77 364.50,165.54 364.07,167.19 C363.65,168.84 363.13,172.20 362.47,173.49 C361.82,174.78 359.80,175.97 359.18,176.89 C358.55,177.81 358.08,179.46 357.77,180.39 C357.47,181.32 356.94,183.21 356.88,183.89 C356.81,184.57 356.58,185.25 357.27,185.49 C357.97,185.73 360.63,185.61 362.07,185.69 C363.51,185.77 367.27,186.04 368.07,186.09" fill="none" stroke="#008000" stroke-width="1.2" stroke-linejoin="round"/>
<path d="M421.08,29.50 C420.77,31.53 419.55,40.18 418.78,44.70 C418.01,49.22 416.21,59.04 415.28,63.40 C414.35,67.76 412.71,73.67 411.78,77.40 C410.85,81.13 409.28,88.63 408.28,91.40 C407.28,94.17 405.00,96.45 404.28,98.20 C403.56,99.95 403.23,102.85 402.88,104.50 C402.53,106.15 402.61,108.95 401.68,110.60 C400.75,112.25 397.07,115.71 395.88,116.90 C394.69,118.09 393.58,118.97 392.78,119.50 C391.98,120.03 390.87,120.45 389.88,120.90 C388.89,121.35 386.35,122.27 385.38,122.90 C384.41,123.53 383.34,125.04 382.58,125.60 C381.82,126.16 380.45,126.61 379.68,127.10 C378.91,127.59 377.46,128.58 376.78,129.30 C376.10,130.02 375.21,131.67 374.58,132.50 C373.95,133.33 372.71,134.23 372.08,135.50 C371.45,136.77 370.35,140.28 369.88,142.00 C369.41,143.72 369.03,146.73 368.58,148.40 C368.13,150.07 366.89,152.82 366.48,154.50 C366.07,156.18 365.83,159.32 365.48,161.00 C365.13,162.68 364.31,165.45 363.88,167.10 C363.45,168.75 362.93,172.11 362.28,173.40 C361.63,174.69 359.61,175.88 358.98,176.80 C358.35,177.72 357.89,179.37 357.58,180.30 C357.27,181.23 356.75,183.12 356.68,183.80 C356.61,184.48 356.39,185.16 357.08,185.40 C357.77,185.64 360.44,185.52 361.88,185.60 C363.32,185.68 367.08,185.95 367.88,186.00" fill="none" stroke="#1a1aff" stroke-width="1.2" stroke-linejoin="round" stroke-dasharray="1.05 1.3"/>
<path d="M421.20,29.50 C420.89,31.53 419.67,40.18 418.90,44.70 C418.13,49.22 416.33,59.04 415.40,63.40 C414.47,67.76 412.83,73.67 411.90,77.40 C410.97,81.13 409.40,88.63 408.40,91.40 C407.40,94.17 405.12,96.45 404.40,98.20 C403.68,99.95 403.35,102.85 403.00,104.50 C402.65,106.15 402.73,108.95 401.80,110.60 C400.87,112.25 397.19,115.71 396.00,116.90 C394.81,118.09 393.70,118.97 392.90,119.50 C392.10,120.03 390.99,120.45 390.00,120.90 C389.01,121.35 386.47,122.27 385.50,122.90 C384.53,123.53 383.46,125.04 382.70,125.60 C381.94,126.16 380.57,126.61 379.80,127.10 C379.03,127.59 377.58,128.58 376.90,129.30 C376.22,130.02 375.33,131.67 374.70,132.50 C374.07,133.33 372.83,134.23 372.20,135.50 C371.57,136.77 370.47,140.28 370.00,142.00 C369.53,143.72 369.15,146.73 368.70,148.40 C368.25,150.07 367.01,152.82 366.60,154.50 C366.19,156.18 365.95,159.32 365.60,161.00 C365.25,162.68 364.43,165.45 364.00,167.10 C363.57,168.75 362.73,172.08 362.40,173.40 C362.07,174.72 361.66,176.08 361.50,177.00 C361.34,177.92 361.09,179.39 361.20,180.30 C361.31,181.21 361.99,183.13 362.30,183.80 C362.61,184.47 362.74,185.01 363.50,185.30 C364.26,185.59 367.40,185.91 368.00,186.00" fill="none" stroke="#000000" stroke-width="1.2" stroke-linejoin="round" stroke-dasharray="3.2 1.4"/>
<g fill="#cac400" stroke="#000" stroke-width="0.85"><circle cx="404.40" cy="98.20" r="2.85"/><circle cx="401.80" cy="110.60" r="2.85"/><circle cx="396.00" cy="116.90" r="2.85"/><circle cx="385.50" cy="122.90" r="2.85"/><circle cx="372.00" cy="136.00" r="2.85"/><circle cx="368.70" cy="148.40" r="2.85"/><circle cx="366.60" cy="154.50" r="2.85"/><circle cx="365.60" cy="161.00" r="2.85"/><circle cx="364.00" cy="167.10" r="2.85"/><circle cx="362.40" cy="173.40" r="2.85"/><circle cx="364.70" cy="179.70" r="2.85"/><circle cx="367.70" cy="186.50" r="2.85"/></g>
</g>
<rect x="351.75" y="29.5" width="80.8" height="157.0" fill="none" stroke="#3a3a3a" stroke-width="0.75"/>
<line x1="349.75" y1="186.50" x2="351.75" y2="186.50" stroke="#000" stroke-width="0.7"/>
<text x="348.45" y="188.70" text-anchor="end" class="tk">0.0</text>
<line x1="349.75" y1="155.10" x2="351.75" y2="155.10" stroke="#000" stroke-width="0.7"/>
<text x="348.45" y="157.30" text-anchor="end" class="tk">0.5</text>
<line x1="349.75" y1="123.70" x2="351.75" y2="123.70" stroke="#000" stroke-width="0.7"/>
<text x="348.45" y="125.90" text-anchor="end" class="tk">1.0</text>
<line x1="349.75" y1="92.30" x2="351.75" y2="92.30" stroke="#000" stroke-width="0.7"/>
<text x="348.45" y="94.50" text-anchor="end" class="tk">1.5</text>
<line x1="349.75" y1="60.90" x2="351.75" y2="60.90" stroke="#000" stroke-width="0.7"/>
<text x="348.45" y="63.10" text-anchor="end" class="tk">2.0</text>
<line x1="349.75" y1="29.50" x2="351.75" y2="29.50" stroke="#000" stroke-width="0.7"/>
<text x="348.45" y="31.70" text-anchor="end" class="tk">2.5</text>
<line x1="367.91" y1="186.5" x2="367.91" y2="188.3" stroke="#000" stroke-width="0.7"/>
<text x="367.91" y="193.80" text-anchor="middle" class="tk">0</text>
<line x1="400.23" y1="186.5" x2="400.23" y2="188.3" stroke="#000" stroke-width="0.7"/>
<text x="400.23" y="193.80" text-anchor="middle" class="tk">1</text>
<line x1="432.55" y1="186.5" x2="432.55" y2="188.3" stroke="#000" stroke-width="0.7"/>
<text x="432.55" y="193.80" text-anchor="middle" class="tk">2</text>
<text x="332.15" y="14.90" class="pl">(d)</text>
<g transform="translate(338.95 108.10) rotate(-90)"><text x="-8.1" y="0" class="al" font-style="italic">z</text><text x="-3.0" y="2.4" class="sly">/</text><text x="2.2" y="0" class="al" textLength="6.3" lengthAdjust="spacingAndGlyphs">H</text></g>
<text x="373.90" y="205.10" class="br">⟨</text>
<text x="378.60" y="204.00" class="al" textLength="4.7" lengthAdjust="spacingAndGlyphs">u</text>
<text x="382.40" y="205.10" class="br">⟩</text>
<text x="387.00" y="206.20" class="sl">/</text>
<text x="392.20" y="205.10" class="br">⟨</text>
<text x="396.65" y="204.00" class="al" textLength="6.0" lengthAdjust="spacingAndGlyphs">U</text>
<text x="403.05" y="204.70" class="sb">s</text>
<text x="405.80" y="205.10" class="br">⟩</text>
<line x1="378.20" y1="198.40" x2="382.80" y2="198.40" stroke="#333" stroke-width="0.7"/>
<line x1="396.20" y1="195.50" x2="403.60" y2="195.50" stroke="#333" stroke-width="0.7"/>
<clipPath id="c04"><rect x="461.0" y="29.5" width="80.8" height="157.0"/></clipPath>
<g clip-path="url(#c04)">
<path d="M530.73,29.50 C530.41,31.53 529.12,40.18 528.33,44.70 C527.54,49.22 525.76,59.04 524.83,63.40 C523.90,67.76 522.26,73.67 521.33,77.40 C520.40,81.13 518.86,88.63 517.83,91.40 C516.80,94.17 514.38,96.45 513.63,98.20 C512.88,99.95 512.59,102.78 512.23,104.50 C511.87,106.22 511.49,109.89 510.93,111.10 C510.37,112.31 508.80,112.83 508.03,113.60 C507.26,114.37 505.81,116.22 505.13,116.90 C504.45,117.58 503.70,118.17 502.93,118.70 C502.16,119.23 500.40,120.31 499.33,120.90 C498.26,121.49 495.96,122.66 494.93,123.10 C493.90,123.54 492.50,123.87 491.63,124.20 C490.76,124.53 489.24,125.16 488.43,125.60 C487.62,126.04 486.21,126.86 485.53,127.50 C484.85,128.14 483.82,129.44 483.33,130.40 C482.84,131.36 482.11,133.98 481.83,134.70 C481.55,135.42 481.60,134.83 481.23,135.80 C480.86,136.77 479.50,140.35 479.03,142.00 C478.56,143.65 478.13,146.53 477.73,148.20 C477.33,149.87 476.40,152.82 476.03,154.50 C475.66,156.18 475.33,159.12 474.93,160.80 C474.53,162.48 473.50,165.42 473.03,167.10 C472.56,168.78 471.27,171.72 471.43,173.40 C471.59,175.08 473.39,178.09 474.23,179.70 C475.07,181.31 477.26,184.73 477.73,185.50" fill="none" stroke="#bfbf00" stroke-width="1.2" stroke-linejoin="round" stroke-dasharray="1.05 1.3"/>
<path d="M530.84,29.50 C530.51,31.53 529.22,40.18 528.43,44.70 C527.65,49.22 525.87,59.04 524.93,63.40 C524.00,67.76 522.37,73.67 521.43,77.40 C520.50,81.13 518.96,88.63 517.93,91.40 C516.91,94.17 514.48,96.45 513.74,98.20 C512.99,99.95 512.70,102.78 512.34,104.50 C511.98,106.22 511.59,109.89 511.03,111.10 C510.47,112.31 508.91,112.83 508.13,113.60 C507.36,114.37 505.92,116.22 505.24,116.90 C504.56,117.58 503.81,118.17 503.03,118.70 C502.26,119.23 500.50,120.31 499.44,120.90 C498.37,121.49 496.06,122.66 495.03,123.10 C494.01,123.54 492.60,123.87 491.74,124.20 C490.87,124.53 489.35,125.16 488.53,125.60 C487.72,126.04 486.31,126.86 485.63,127.50 C484.95,128.14 483.93,129.44 483.44,130.40 C482.94,131.36 482.22,133.98 481.94,134.70 C481.65,135.42 481.71,134.83 481.33,135.80 C480.96,136.77 479.60,140.35 479.13,142.00 C478.67,143.65 478.23,146.53 477.83,148.20 C477.44,149.87 476.51,152.82 476.13,154.50 C475.76,156.18 475.43,159.12 475.03,160.80 C474.63,162.48 473.60,165.42 473.13,167.10 C472.67,168.78 471.37,171.72 471.53,173.40 C471.69,175.08 473.50,178.09 474.33,179.70 C475.17,181.31 477.37,184.73 477.83,185.50" fill="none" stroke="#ff1a1a" stroke-width="1.2" stroke-linejoin="round" stroke-dasharray="6.2 0.9 1.0 0.9"/>
<path d="M530.78,29.59 C530.46,31.62 529.16,40.27 528.38,44.79 C527.59,49.31 525.81,59.13 524.88,63.49 C523.94,67.85 522.31,73.76 521.38,77.49 C520.44,81.22 518.90,88.72 517.88,91.49 C516.85,94.26 514.42,96.54 513.68,98.29 C512.93,100.04 512.64,102.87 512.28,104.59 C511.92,106.31 511.53,109.98 510.97,111.19 C510.41,112.40 508.85,112.92 508.07,113.69 C507.30,114.46 505.86,116.31 505.18,116.99 C504.50,117.67 503.75,118.26 502.97,118.79 C502.20,119.32 500.44,120.40 499.38,120.99 C498.31,121.58 496.00,122.75 494.97,123.19 C493.95,123.63 492.54,123.96 491.68,124.29 C490.81,124.62 489.29,125.25 488.47,125.69 C487.66,126.13 486.25,126.95 485.57,127.59 C484.89,128.23 483.87,129.53 483.38,130.49 C482.88,131.45 482.16,134.07 481.88,134.79 C481.59,135.51 481.65,134.92 481.27,135.89 C480.90,136.86 479.54,140.44 479.07,142.09 C478.61,143.74 478.17,146.62 477.77,148.29 C477.38,149.96 476.45,152.91 476.07,154.59 C475.70,156.27 475.37,159.21 474.97,160.89 C474.57,162.57 473.54,165.51 473.07,167.19 C472.61,168.87 471.31,171.81 471.47,173.49 C471.63,175.17 473.44,178.18 474.27,179.79 C475.11,181.40 477.31,184.82 477.77,185.59" fill="none" stroke="#008000" stroke-width="1.2" stroke-linejoin="round"/>
<path d="M530.58,29.50 C530.26,31.53 528.97,40.18 528.18,44.70 C527.39,49.22 525.61,59.04 524.68,63.40 C523.75,67.76 522.11,73.67 521.18,77.40 C520.25,81.13 518.71,88.63 517.68,91.40 C516.65,94.17 514.23,96.45 513.48,98.20 C512.73,99.95 512.44,102.78 512.08,104.50 C511.72,106.22 511.34,109.89 510.78,111.10 C510.22,112.31 508.65,112.83 507.88,113.60 C507.11,114.37 505.66,116.22 504.98,116.90 C504.30,117.58 503.55,118.17 502.78,118.70 C502.01,119.23 500.25,120.31 499.18,120.90 C498.11,121.49 495.81,122.66 494.78,123.10 C493.75,123.54 492.35,123.87 491.48,124.20 C490.61,124.53 489.09,125.16 488.28,125.60 C487.47,126.04 486.06,126.86 485.38,127.50 C484.70,128.14 483.67,129.44 483.18,130.40 C482.69,131.36 481.96,133.98 481.68,134.70 C481.40,135.42 481.45,134.83 481.08,135.80 C480.71,136.77 479.35,140.35 478.88,142.00 C478.41,143.65 477.98,146.53 477.58,148.20 C477.18,149.87 476.25,152.82 475.88,154.50 C475.51,156.18 475.18,159.12 474.78,160.80 C474.38,162.48 473.35,165.42 472.88,167.10 C472.41,168.78 471.12,171.72 471.28,173.40 C471.44,175.08 473.24,178.09 474.08,179.70 C474.92,181.31 477.11,184.73 477.58,185.50" fill="none" stroke="#1a1aff" stroke-width="1.2" stroke-linejoin="round" stroke-dasharray="1.05 1.3"/>
<path d="M530.70,29.50 C530.38,31.53 529.09,40.18 528.30,44.70 C527.51,49.22 525.73,59.04 524.80,63.40 C523.87,67.76 522.23,73.67 521.30,77.40 C520.37,81.13 518.83,88.63 517.80,91.40 C516.77,94.17 514.35,96.45 513.60,98.20 C512.85,99.95 512.56,102.78 512.20,104.50 C511.84,106.22 511.46,109.89 510.90,111.10 C510.34,112.31 508.77,112.83 508.00,113.60 C507.23,114.37 505.78,116.22 505.10,116.90 C504.42,117.58 503.67,118.17 502.90,118.70 C502.13,119.23 500.37,120.31 499.30,120.90 C498.23,121.49 495.93,122.66 494.90,123.10 C493.87,123.54 492.47,123.87 491.60,124.20 C490.73,124.53 489.21,125.16 488.40,125.60 C487.59,126.04 486.18,126.86 485.50,127.50 C484.82,128.14 483.79,129.44 483.30,130.40 C482.81,131.36 482.08,133.98 481.80,134.70 C481.52,135.42 481.57,134.83 481.20,135.80 C480.83,136.77 479.47,140.35 479.00,142.00 C478.53,143.65 478.10,146.53 477.70,148.20 C477.30,149.87 476.37,152.82 476.00,154.50 C475.63,156.18 475.30,159.12 474.90,160.80 C474.50,162.48 473.47,165.42 473.00,167.10 C472.53,168.78 471.24,171.72 471.40,173.40 C471.56,175.08 473.36,178.09 474.20,179.70 C475.04,181.31 477.23,184.73 477.70,185.50" fill="none" stroke="#000000" stroke-width="1.2" stroke-linejoin="round" stroke-dasharray="3.2 1.4"/>
<g fill="#cac400" stroke="#000" stroke-width="0.85"><circle cx="513.60" cy="98.20" r="2.85"/><circle cx="510.80" cy="110.80" r="2.85"/><circle cx="505.20" cy="116.90" r="2.85"/><circle cx="494.70" cy="123.20" r="2.85"/><circle cx="481.20" cy="135.80" r="2.85"/><circle cx="477.70" cy="148.20" r="2.85"/><circle cx="476.00" cy="154.50" r="2.85"/><circle cx="474.90" cy="160.80" r="2.85"/><circle cx="473.00" cy="167.10" r="2.85"/><circle cx="471.40" cy="173.40" r="2.85"/><circle cx="474.20" cy="179.70" r="2.85"/><circle cx="477.70" cy="186.50" r="2.85"/></g>
</g>
<rect x="461.0" y="29.5" width="80.8" height="157.0" fill="none" stroke="#3a3a3a" stroke-width="0.75"/>
<line x1="459.0" y1="186.50" x2="461.0" y2="186.50" stroke="#000" stroke-width="0.7"/>
<text x="457.70" y="188.70" text-anchor="end" class="tk">0.0</text>
<line x1="459.0" y1="155.10" x2="461.0" y2="155.10" stroke="#000" stroke-width="0.7"/>
<text x="457.70" y="157.30" text-anchor="end" class="tk">0.5</text>
<line x1="459.0" y1="123.70" x2="461.0" y2="123.70" stroke="#000" stroke-width="0.7"/>
<text x="457.70" y="125.90" text-anchor="end" class="tk">1.0</text>
<line x1="459.0" y1="92.30" x2="461.0" y2="92.30" stroke="#000" stroke-width="0.7"/>
<text x="457.70" y="94.50" text-anchor="end" class="tk">1.5</text>
<line x1="459.0" y1="60.90" x2="461.0" y2="60.90" stroke="#000" stroke-width="0.7"/>
<text x="457.70" y="63.10" text-anchor="end" class="tk">2.0</text>
<line x1="459.0" y1="29.50" x2="461.0" y2="29.50" stroke="#000" stroke-width="0.7"/>
<text x="457.70" y="31.70" text-anchor="end" class="tk">2.5</text>
<line x1="477.16" y1="186.5" x2="477.16" y2="188.3" stroke="#000" stroke-width="0.7"/>
<text x="477.16" y="193.80" text-anchor="middle" class="tk">0</text>
<line x1="509.48" y1="186.5" x2="509.48" y2="188.3" stroke="#000" stroke-width="0.7"/>
<text x="509.48" y="193.80" text-anchor="middle" class="tk">1</text>
<line x1="541.80" y1="186.5" x2="541.80" y2="188.3" stroke="#000" stroke-width="0.7"/>
<text x="541.80" y="193.80" text-anchor="middle" class="tk">2</text>
<text x="441.40" y="14.90" class="pl">(e)</text>
<g transform="translate(448.20 108.10) rotate(-90)"><text x="-8.1" y="0" class="al" font-style="italic">z</text><text x="-3.0" y="2.4" class="sly">/</text><text x="2.2" y="0" class="al" textLength="6.3" lengthAdjust="spacingAndGlyphs">H</text></g>
<text x="483.15" y="205.10" class="br">⟨</text>
<text x="487.85" y="204.00" class="al" textLength="4.7" lengthAdjust="spacingAndGlyphs">u</text>
<text x="491.65" y="205.10" class="br">⟩</text>
<text x="496.25" y="206.20" class="sl">/</text>
<text x="501.45" y="205.10" class="br">⟨</text>
<text x="505.90" y="204.00" class="al" textLength="6.0" lengthAdjust="spacingAndGlyphs">U</text>
<text x="512.30" y="204.70" class="sb">s</text>
<text x="515.05" y="205.10" class="br">⟩</text>
<line x1="487.45" y1="198.40" x2="492.05" y2="198.40" stroke="#333" stroke-width="0.7"/>
<line x1="505.45" y1="195.50" x2="512.85" y2="195.50" stroke="#333" stroke-width="0.7"/>
<clipPath id="c10"><rect x="24.0" y="245.4" width="80.8" height="156.99999999999997"/></clipPath>
<g clip-path="url(#c10)">
<path d="M32.55,245.40 C32.69,245.93 33.30,248.32 33.58,249.38 C33.85,250.45 34.33,252.31 34.60,253.37 C34.87,254.43 35.36,256.29 35.63,257.35 C35.89,258.42 36.34,260.28 36.59,261.35 C36.85,262.42 37.27,264.29 37.52,265.36 C37.77,266.43 38.11,268.33 38.45,269.36 C38.79,270.40 39.61,272.14 40.05,273.14 C40.50,274.14 41.49,275.83 41.78,276.87 C42.07,277.91 42.12,279.86 42.24,280.95 C42.36,282.04 42.50,283.96 42.68,285.03 C42.86,286.11 43.37,287.94 43.59,289.00 C43.82,290.06 44.22,291.91 44.36,292.99 C44.50,294.07 44.55,296.00 44.65,297.09 C44.74,298.19 44.78,300.17 45.07,301.18 C45.35,302.19 46.18,303.80 46.76,304.66 C47.35,305.53 48.78,306.79 49.43,307.65 C50.07,308.51 51.05,310.17 51.60,311.12 C52.14,312.06 53.05,313.75 53.52,314.73 C53.98,315.71 54.72,317.47 55.12,318.48 C55.51,319.50 56.10,321.34 56.48,322.36 C56.86,323.39 57.65,325.14 57.98,326.18 C58.31,327.22 58.86,329.08 58.96,330.14 C59.07,331.20 59.21,333.31 58.75,334.12 C58.29,334.93 56.48,335.82 55.52,336.21 C54.55,336.60 52.58,336.80 51.51,337.03 C50.44,337.27 48.58,337.73 47.51,337.98 C46.44,338.23 44.57,338.67 43.50,338.90 C42.43,339.13 40.54,339.50 39.46,339.71 C38.39,339.91 36.31,340.15 35.41,340.42 C34.52,340.70 33.13,341.11 32.75,341.77 C32.37,342.43 32.60,344.34 32.55,345.36 C32.50,346.38 32.39,348.35 32.37,349.44 C32.35,350.53 32.33,352.45 32.38,353.54 C32.43,354.63 32.59,356.54 32.74,357.62 C32.89,358.71 33.29,360.59 33.52,361.66 C33.75,362.73 34.22,364.60 34.49,365.66 C34.75,366.72 35.24,368.58 35.50,369.65 C35.77,370.71 36.21,372.58 36.47,373.65 C36.74,374.71 37.18,376.58 37.46,377.64 C37.75,378.70 38.26,380.55 38.60,381.59 C38.93,382.64 39.52,384.46 39.97,385.45 C40.42,386.44 41.42,388.09 41.99,389.03 C42.55,389.96 43.74,391.56 44.22,392.47 C44.70,393.38 45.78,395.07 45.56,395.87 C45.34,396.68 43.45,397.83 42.60,398.49 C41.76,399.16 40.21,400.39 39.24,400.85 C38.27,401.30 36.37,401.73 35.30,401.90 C34.23,402.06 32.29,402.03 31.20,402.07 C30.10,402.10 28.05,402.13 27.09,402.14 C26.13,402.16 24.41,402.19 24.00,402.20" fill="none" stroke="#bfbf00" stroke-width="1.2" stroke-linejoin="round" stroke-dasharray="1.05 1.3"/>
<path d="M32.50,245.40 C32.94,247.21 35.07,255.72 35.80,259.00 C36.53,262.28 37.31,267.60 38.00,270.00 C38.69,272.40 40.51,275.00 41.00,277.00 C41.49,279.00 41.23,283.00 41.70,285.00 C42.17,287.00 44.09,290.53 44.50,292.00 C44.91,293.47 44.63,294.47 44.80,296.00 C44.97,297.53 45.16,302.21 45.80,303.50 C46.44,304.79 48.73,304.98 49.60,305.70 C50.47,306.42 51.66,308.05 52.30,308.90 C52.94,309.75 53.91,310.95 54.40,312.10 C54.89,313.25 55.56,316.06 56.00,317.50 C56.44,318.94 57.26,321.46 57.70,322.90 C58.14,324.34 59.02,327.01 59.30,328.30 C59.58,329.59 59.84,331.71 59.80,332.60 C59.76,333.49 59.57,334.48 59.00,335.00 C58.43,335.52 56.43,336.25 55.50,336.50 C54.57,336.75 53.40,336.62 52.00,336.90 C50.60,337.18 46.87,338.19 45.00,338.60 C43.13,339.01 39.76,339.68 38.00,340.00 C36.24,340.32 32.64,340.40 31.80,341.00 C30.96,341.60 31.67,343.57 31.70,344.50 C31.73,345.43 31.92,347.00 32.00,348.00 C32.08,349.00 32.22,350.88 32.30,352.00 C32.38,353.12 32.43,355.07 32.60,356.40 C32.77,357.73 33.20,360.21 33.60,362.00 C34.00,363.79 35.08,367.71 35.60,369.80 C36.12,371.89 36.98,375.74 37.50,377.70 C38.02,379.66 38.91,382.99 39.50,384.50 C40.09,386.01 41.33,387.93 41.90,389.00 C42.47,390.07 43.37,391.59 43.80,392.50 C44.23,393.41 45.39,394.89 45.10,395.80 C44.81,396.71 42.45,398.58 41.60,399.30 C40.75,400.02 39.61,400.84 38.70,401.20 C37.79,401.56 36.76,401.87 34.80,402.00 C32.84,402.13 25.44,402.17 24.00,402.20" fill="none" stroke="#ff1a1a" stroke-width="1.2" stroke-linejoin="round" stroke-dasharray="6.2 0.9 1.0 0.9"/>
<path d="M32.60,245.40 C33.09,247.21 35.42,255.72 36.30,259.00 C37.18,262.28 38.35,267.60 39.20,270.00 C40.05,272.40 42.11,275.00 42.70,277.00 C43.29,279.00 43.41,283.00 43.60,285.00 C43.79,287.00 43.98,290.00 44.10,292.00 C44.22,294.00 44.41,298.60 44.50,300.00 C44.59,301.40 44.33,301.46 44.80,302.50 C45.27,303.54 47.15,306.23 48.00,307.80 C48.85,309.37 50.41,312.86 51.20,314.30 C51.99,315.74 53.26,317.31 53.90,318.60 C54.54,319.89 55.43,322.71 56.00,324.00 C56.57,325.29 57.84,327.15 58.20,328.30 C58.56,329.45 58.70,331.75 58.70,332.60 C58.70,333.45 58.63,334.21 58.20,334.70 C57.77,335.19 56.33,336.02 55.50,336.30 C54.67,336.58 53.40,336.49 52.00,336.80 C50.60,337.11 46.87,338.17 45.00,338.60 C43.13,339.03 39.75,339.68 38.00,340.00 C36.25,340.32 32.46,340.40 31.90,341.00 C31.34,341.60 33.64,343.57 33.80,344.50 C33.96,345.43 33.27,347.00 33.10,348.00 C32.93,349.00 32.59,350.88 32.50,352.00 C32.41,353.12 32.27,355.07 32.40,356.40 C32.53,357.73 33.09,360.21 33.50,362.00 C33.91,363.79 34.98,367.71 35.50,369.80 C36.02,371.89 36.88,375.74 37.40,377.70 C37.92,379.66 38.81,382.99 39.40,384.50 C39.99,386.01 41.12,387.93 41.80,389.00 C42.48,390.07 43.81,391.59 44.50,392.50 C45.19,393.41 47.39,394.89 47.00,395.80 C46.61,396.71 42.71,398.58 41.60,399.30 C40.49,400.02 39.61,400.84 38.70,401.20 C37.79,401.56 36.76,401.87 34.80,402.00 C32.84,402.13 25.44,402.17 24.00,402.20" fill="none" stroke="#008000" stroke-width="1.2" stroke-linejoin="round"/>
<path d="M36.60,245.40 C36.79,247.21 37.88,255.99 38.00,259.00 C38.12,262.01 37.53,265.60 37.50,268.00 C37.47,270.40 37.52,274.73 37.80,277.00 C38.08,279.27 39.17,283.00 39.60,285.00 C40.03,287.00 40.53,290.53 41.00,292.00 C41.47,293.47 42.67,294.47 43.10,296.00 C43.53,297.53 43.55,301.63 44.20,303.50 C44.85,305.37 47.00,308.13 48.00,310.00 C49.00,311.87 50.70,315.71 51.70,317.50 C52.70,319.29 54.70,321.96 55.50,323.40 C56.30,324.84 57.34,327.01 57.70,328.30 C58.06,329.59 58.23,332.21 58.20,333.10 C58.17,333.99 57.93,334.55 57.50,335.00 C57.07,335.45 55.73,336.25 55.00,336.50 C54.27,336.75 53.33,336.62 52.00,336.90 C50.67,337.18 46.87,338.19 45.00,338.60 C43.13,339.01 39.73,339.68 38.00,340.00 C36.27,340.32 32.53,340.40 32.00,341.00 C31.47,341.60 33.83,343.57 34.00,344.50 C34.17,345.43 33.46,347.00 33.30,348.00 C33.14,349.00 32.88,350.88 32.80,352.00 C32.72,353.12 32.57,355.07 32.70,356.40 C32.83,357.73 33.39,360.21 33.80,362.00 C34.21,363.79 35.28,367.71 35.80,369.80 C36.32,371.89 37.18,375.74 37.70,377.70 C38.22,379.66 39.05,382.93 39.70,384.50 C40.35,386.07 41.83,388.43 42.60,389.50 C43.37,390.57 44.71,391.79 45.50,392.50 C46.29,393.21 49.02,393.89 48.50,394.80 C47.98,395.71 42.91,398.45 41.60,399.30 C40.29,400.15 39.61,400.84 38.70,401.20 C37.79,401.56 36.76,401.87 34.80,402.00 C32.84,402.13 25.44,402.17 24.00,402.20" fill="none" stroke="#1a1aff" stroke-width="1.2" stroke-linejoin="round" stroke-dasharray="1.05 1.3"/>
<path d="M32.40,245.40 C32.87,247.21 35.09,255.72 35.90,259.00 C36.71,262.28 37.87,267.60 38.50,270.00 C39.13,272.40 40.27,275.00 40.60,277.00 C40.93,279.00 40.95,283.00 41.00,285.00 C41.05,287.00 41.04,290.00 41.00,292.00 C40.96,294.00 40.74,298.47 40.70,300.00 C40.66,301.53 40.30,302.17 40.70,303.50 C41.10,304.83 42.73,308.13 43.70,310.00 C44.67,311.87 47.00,315.50 48.00,317.50 C49.00,319.50 50.56,323.43 51.20,325.00 C51.84,326.57 52.63,328.29 52.80,329.30 C52.97,330.31 52.65,331.67 52.50,332.60 C52.35,333.53 52.70,335.50 51.70,336.30 C50.70,337.10 46.83,338.11 45.00,338.60 C43.17,339.09 39.77,339.68 38.00,340.00 C36.23,340.32 32.63,340.77 31.70,341.00 C30.77,341.23 31.19,341.23 31.00,341.70 C30.81,342.17 30.41,343.66 30.30,344.50 C30.19,345.34 30.15,347.00 30.20,348.00 C30.25,349.00 30.82,350.79 30.70,352.00 C30.58,353.21 29.42,355.90 29.30,357.10 C29.18,358.30 29.57,359.95 29.80,361.00 C30.03,362.05 30.57,363.80 31.00,365.00 C31.43,366.20 32.47,368.40 33.00,370.00 C33.53,371.60 34.40,375.20 35.00,377.00 C35.60,378.80 36.77,381.97 37.50,383.50 C38.23,385.03 39.57,387.17 40.50,388.50 C41.43,389.83 43.77,392.57 44.50,393.50 C45.23,394.43 46.39,394.73 46.00,395.50 C45.61,396.27 42.57,398.54 41.60,399.30 C40.63,400.06 39.61,400.84 38.70,401.20 C37.79,401.56 36.76,401.87 34.80,402.00 C32.84,402.13 25.44,402.17 24.00,402.20" fill="none" stroke="#000000" stroke-width="1.2" stroke-linejoin="round" stroke-dasharray="3.2 1.4"/>
<g fill="#cac400" stroke="#000" stroke-width="0.85"><circle cx="66.90" cy="314.40" r="2.85"/><circle cx="65.70" cy="326.90" r="2.85"/><circle cx="65.90" cy="333.20" r="2.85"/><circle cx="54.70" cy="339.50" r="2.85"/><circle cx="30.70" cy="352.10" r="2.85"/><circle cx="31.10" cy="364.60" r="2.85"/><circle cx="32.10" cy="370.90" r="2.85"/><circle cx="33.90" cy="377.20" r="2.85"/><circle cx="35.60" cy="383.20" r="2.85"/><circle cx="36.00" cy="389.80" r="2.85"/><circle cx="37.80" cy="396.10" r="2.85"/></g>
</g>
<rect x="24.0" y="245.4" width="80.8" height="156.99999999999997" fill="none" stroke="#3a3a3a" stroke-width="0.75"/>
<line x1="22.0" y1="402.40" x2="24.0" y2="402.40" stroke="#000" stroke-width="0.7"/>
<text x="20.70" y="404.60" text-anchor="end" class="tk">0.0</text>
<line x1="22.0" y1="371.00" x2="24.0" y2="371.00" stroke="#000" stroke-width="0.7"/>
<text x="20.70" y="373.20" text-anchor="end" class="tk">0.5</text>
<line x1="22.0" y1="339.60" x2="24.0" y2="339.60" stroke="#000" stroke-width="0.7"/>
<text x="20.70" y="341.80" text-anchor="end" class="tk">1.0</text>
<line x1="22.0" y1="308.20" x2="24.0" y2="308.20" stroke="#000" stroke-width="0.7"/>
<text x="20.70" y="310.40" text-anchor="end" class="tk">1.5</text>
<line x1="22.0" y1="276.80" x2="24.0" y2="276.80" stroke="#000" stroke-width="0.7"/>
<text x="20.70" y="279.00" text-anchor="end" class="tk">2.0</text>
<line x1="22.0" y1="245.40" x2="24.0" y2="245.40" stroke="#000" stroke-width="0.7"/>
<text x="20.70" y="247.60" text-anchor="end" class="tk">2.5</text>
<line x1="24.00" y1="402.4" x2="24.00" y2="404.2" stroke="#000" stroke-width="0.7"/>
<text x="24.00" y="409.70" text-anchor="middle" class="tk">0</text>
<line x1="64.40" y1="402.4" x2="64.40" y2="404.2" stroke="#000" stroke-width="0.7"/>
<text x="64.40" y="409.70" text-anchor="middle" class="tk">1</text>
<line x1="104.80" y1="402.4" x2="104.80" y2="404.2" stroke="#000" stroke-width="0.7"/>
<text x="104.80" y="409.70" text-anchor="middle" class="tk">2</text>
<text x="4.40" y="230.80" class="pl">(f)</text>
<g transform="translate(11.20 324.00) rotate(-90)"><text x="-8.1" y="0" class="al" font-style="italic">z</text><text x="-3.0" y="2.4" class="sly">/</text><text x="2.2" y="0" class="al" textLength="6.3" lengthAdjust="spacingAndGlyphs">H</text></g>
<text x="31.45" y="421.00" class="br">⟨</text>
<text x="36.05" y="419.90" class="al">TKE</text>
<text x="55.85" y="421.00" class="br">⟩</text>
<text x="60.45" y="422.10" class="sl">/</text>
<text x="65.65" y="421.00" class="br">⟨</text>
<text x="70.35" y="419.90" class="al">TKE</text>
<text x="89.05" y="421.50" class="sb">s</text>
<text x="91.95" y="421.00" class="br">⟩</text>
<line x1="35.45" y1="411.30" x2="56.15" y2="411.30" stroke="#333" stroke-width="0.7"/>
<line x1="69.65" y1="411.10" x2="90.25" y2="411.10" stroke="#333" stroke-width="0.7"/>
<clipPath id="c11"><rect x="133.25" y="245.4" width="80.8" height="156.99999999999997"/></clipPath>
<g clip-path="url(#c11)">
<path d="M142.30,245.40 C142.42,245.93 142.96,248.31 143.20,249.37 C143.44,250.42 143.87,252.27 144.11,253.33 C144.35,254.39 144.75,256.24 145.01,257.30 C145.27,258.35 145.75,260.18 146.04,261.23 C146.33,262.27 146.86,264.10 147.16,265.14 C147.46,266.18 147.95,268.02 148.28,269.05 C148.61,270.08 149.25,271.85 149.62,272.86 C149.99,273.87 150.78,275.61 151.03,276.65 C151.29,277.68 151.40,279.58 151.51,280.66 C151.61,281.73 151.73,283.63 151.84,284.71 C151.94,285.79 152.18,287.67 152.31,288.75 C152.44,289.82 152.69,291.70 152.83,292.77 C152.97,293.83 153.20,295.68 153.36,296.74 C153.52,297.80 153.69,299.69 154.02,300.69 C154.35,301.68 155.23,303.32 155.83,304.19 C156.44,305.06 157.91,306.34 158.54,307.22 C159.16,308.09 160.02,309.80 160.51,310.76 C161.01,311.72 161.81,313.44 162.26,314.43 C162.70,315.42 163.47,317.16 163.83,318.17 C164.19,319.19 164.69,321.01 164.98,322.05 C165.28,323.09 165.79,324.91 166.06,325.96 C166.32,327.01 166.78,328.84 166.95,329.91 C167.12,330.97 167.61,333.07 167.33,333.96 C167.05,334.84 165.72,336.02 164.88,336.54 C164.04,337.06 162.06,337.49 161.04,337.85 C160.01,338.21 158.25,338.90 157.22,339.23 C156.19,339.56 154.39,340.11 153.33,340.34 C152.28,340.56 150.38,340.74 149.31,340.92 C148.24,341.09 146.26,341.29 145.31,341.65 C144.37,342.01 142.80,342.90 142.24,343.64 C141.67,344.39 141.23,346.23 141.11,347.25 C140.99,348.27 141.26,350.22 141.35,351.30 C141.44,352.38 141.67,354.26 141.79,355.34 C141.91,356.41 142.14,358.30 142.25,359.37 C142.36,360.45 142.56,362.33 142.60,363.41 C142.63,364.49 142.53,366.39 142.52,367.48 C142.51,368.56 142.53,370.46 142.55,371.54 C142.57,372.63 142.63,374.52 142.67,375.61 C142.71,376.69 142.75,378.59 142.82,379.67 C142.89,380.75 143.05,382.65 143.19,383.72 C143.33,384.79 143.58,386.68 143.88,387.70 C144.18,388.72 144.92,390.48 145.45,391.40 C145.98,392.33 147.11,393.86 147.84,394.63 C148.57,395.41 150.31,396.57 150.91,397.21 C151.52,397.86 152.68,398.96 152.37,399.45 C152.06,399.94 149.60,400.54 148.57,400.88 C147.55,401.22 145.74,401.85 144.68,402.01 C143.62,402.17 141.70,402.06 140.62,402.08 C139.53,402.10 137.50,402.13 136.55,402.15 C135.60,402.16 133.91,402.19 133.50,402.20" fill="none" stroke="#bfbf00" stroke-width="1.2" stroke-linejoin="round" stroke-dasharray="1.05 1.3"/>
<path d="M142.30,245.40 C142.70,247.21 144.50,255.72 145.30,259.00 C146.10,262.28 147.67,267.60 148.30,270.00 C148.93,272.40 149.64,275.00 150.00,277.00 C150.36,279.00 150.73,283.00 151.00,285.00 C151.27,287.00 151.53,290.00 152.00,292.00 C152.47,294.00 153.99,298.60 154.50,300.00 C155.01,301.40 155.05,301.59 155.80,302.50 C156.55,303.41 159.17,305.52 160.10,306.80 C161.03,308.08 162.15,310.67 162.80,312.10 C163.45,313.53 164.57,316.06 165.00,317.50 C165.43,318.94 165.72,321.46 166.00,322.90 C166.28,324.34 166.87,326.73 167.10,328.30 C167.33,329.87 167.74,333.67 167.70,334.70 C167.66,335.73 167.81,335.56 166.80,336.00 C165.79,336.44 161.70,337.53 160.10,338.00 C158.50,338.47 156.52,339.15 154.80,339.50 C153.08,339.85 148.71,340.31 147.20,340.60 C145.69,340.89 144.38,341.31 143.50,341.70 C142.62,342.09 140.96,342.93 140.60,343.50 C140.24,344.07 140.72,345.13 140.80,346.00 C140.88,346.87 141.09,348.61 141.20,350.00 C141.31,351.39 141.43,354.80 141.60,356.40 C141.77,358.00 142.38,360.19 142.50,362.00 C142.62,363.81 142.46,367.60 142.50,370.00 C142.54,372.40 142.60,377.60 142.80,380.00 C143.00,382.40 143.35,386.08 144.00,388.00 C144.65,389.92 146.57,392.93 147.70,394.40 C148.83,395.87 152.50,398.09 152.50,399.00 C152.50,399.91 148.70,400.80 147.70,401.20 C146.70,401.60 146.89,401.87 145.00,402.00 C143.11,402.13 135.03,402.17 133.50,402.20" fill="none" stroke="#ff1a1a" stroke-width="1.2" stroke-linejoin="round" stroke-dasharray="6.2 0.9 1.0 0.9"/>
<path d="M142.30,245.40 C142.73,247.21 144.63,255.72 145.50,259.00 C146.37,262.28 147.88,267.60 148.80,270.00 C149.72,272.40 151.88,275.00 152.40,277.00 C152.92,279.00 152.57,283.00 152.70,285.00 C152.83,287.00 153.35,290.00 153.40,292.00 C153.45,294.00 153.06,298.47 153.10,300.00 C153.14,301.53 153.05,302.31 153.70,303.50 C154.35,304.69 156.93,307.18 158.00,308.90 C159.07,310.62 160.85,314.53 161.70,316.40 C162.55,318.27 163.75,321.18 164.40,322.90 C165.05,324.62 166.24,327.73 166.60,329.30 C166.96,330.87 167.10,333.83 167.10,334.70 C167.10,335.57 167.53,335.32 166.60,335.80 C165.67,336.28 161.71,337.63 160.10,338.30 C158.49,338.97 156.18,340.33 154.50,340.80 C152.82,341.27 149.03,341.56 147.50,341.80 C145.97,342.04 143.81,341.68 143.00,342.60 C142.19,343.52 141.61,347.45 141.40,348.70 C141.19,349.95 141.31,350.97 141.40,352.00 C141.49,353.03 141.91,355.07 142.10,356.40 C142.29,357.73 142.75,360.19 142.80,362.00 C142.85,363.81 142.50,367.60 142.50,370.00 C142.50,372.40 142.67,377.60 142.80,380.00 C142.93,382.40 143.14,386.33 143.50,388.00 C143.86,389.67 144.94,391.53 145.50,392.50 C146.06,393.47 146.55,394.39 147.70,395.30 C148.85,396.21 154.10,398.51 154.10,399.30 C154.10,400.09 148.91,400.84 147.70,401.20 C146.49,401.56 146.89,401.87 145.00,402.00 C143.11,402.13 135.03,402.17 133.50,402.20" fill="none" stroke="#008000" stroke-width="1.2" stroke-linejoin="round"/>
<path d="M146.30,245.40 C146.39,247.21 147.08,255.72 147.00,259.00 C146.92,262.28 145.78,267.60 145.70,270.00 C145.62,272.40 146.03,275.00 146.40,277.00 C146.77,279.00 148.03,283.00 148.50,285.00 C148.97,287.00 149.47,290.00 149.90,292.00 C150.33,294.00 151.19,298.47 151.70,300.00 C152.21,301.53 152.86,302.17 153.70,303.50 C154.54,304.83 157.00,308.28 158.00,310.00 C159.00,311.72 160.41,314.68 161.20,316.40 C161.99,318.12 163.33,321.18 163.90,322.90 C164.47,324.62 165.22,327.87 165.50,329.30 C165.78,330.73 166.00,332.71 166.00,333.60 C166.00,334.49 166.29,335.41 165.50,336.00 C164.71,336.59 161.53,337.53 160.10,338.00 C158.67,338.47 156.52,339.15 154.80,339.50 C153.08,339.85 148.71,340.31 147.20,340.60 C145.69,340.89 144.31,341.18 143.50,341.70 C142.69,342.22 141.38,343.57 141.10,344.50 C140.82,345.43 141.33,347.70 141.40,348.70 C141.47,349.70 141.48,350.97 141.60,352.00 C141.72,353.03 142.11,355.07 142.30,356.40 C142.49,357.73 142.93,360.19 143.00,362.00 C143.07,363.81 142.80,367.60 142.80,370.00 C142.80,372.40 142.77,377.87 143.00,380.00 C143.23,382.13 143.87,384.61 144.50,386.00 C145.13,387.39 146.62,389.16 147.70,390.40 C148.78,391.64 151.43,394.06 152.60,395.30 C153.77,396.54 157.15,398.91 156.50,399.70 C155.85,400.49 149.23,400.89 147.70,401.20 C146.17,401.51 146.89,401.87 145.00,402.00 C143.11,402.13 135.03,402.17 133.50,402.20" fill="none" stroke="#1a1aff" stroke-width="1.2" stroke-linejoin="round" stroke-dasharray="1.05 1.3"/>
<path d="M142.10,245.40 C142.51,247.21 144.35,255.72 145.20,259.00 C146.05,262.28 147.91,267.60 148.50,270.00 C149.09,272.40 149.32,275.00 149.60,277.00 C149.88,279.00 150.47,283.00 150.60,285.00 C150.73,287.00 150.55,290.00 150.60,292.00 C150.65,294.00 150.80,298.60 151.00,300.00 C151.20,301.40 151.59,301.31 152.10,302.50 C152.61,303.69 154.01,307.05 154.80,308.90 C155.59,310.75 157.15,314.39 158.00,316.40 C158.85,318.41 160.56,322.28 161.20,324.00 C161.84,325.72 162.59,328.09 162.80,329.30 C163.01,330.51 162.72,332.17 162.80,333.10 C162.88,334.03 163.37,335.71 163.40,336.30 C163.43,336.89 163.79,337.10 163.00,337.50 C162.21,337.90 159.17,338.87 157.50,339.30 C155.83,339.73 152.37,340.38 150.50,340.70 C148.63,341.02 144.90,341.42 143.50,341.70 C142.10,341.98 140.65,342.24 140.00,342.80 C139.35,343.36 138.83,344.93 138.60,345.90 C138.37,346.87 138.30,348.70 138.30,350.10 C138.30,351.50 138.47,354.81 138.60,356.40 C138.73,357.99 139.13,360.45 139.30,362.00 C139.47,363.55 139.82,365.39 139.90,368.00 C139.98,370.61 139.75,378.93 139.90,381.60 C140.05,384.27 140.52,386.61 141.00,388.00 C141.48,389.39 142.77,391.07 143.50,392.00 C144.23,392.93 145.63,394.13 146.50,395.00 C147.37,395.87 149.84,397.67 150.00,398.50 C150.16,399.33 148.37,400.73 147.70,401.20 C147.03,401.67 146.89,401.87 145.00,402.00 C143.11,402.13 135.03,402.17 133.50,402.20" fill="none" stroke="#000000" stroke-width="1.2" stroke-linejoin="round" stroke-dasharray="3.2 1.4"/>
<g fill="#cac400" stroke="#000" stroke-width="0.85"><circle cx="176.10" cy="314.40" r="2.85"/><circle cx="173.30" cy="326.90" r="2.85"/><circle cx="174.60" cy="333.20" r="2.85"/><circle cx="169.10" cy="339.70" r="2.85"/><circle cx="141.20" cy="352.10" r="2.85"/><circle cx="142.50" cy="364.60" r="2.85"/><circle cx="141.50" cy="370.90" r="2.85"/><circle cx="143.30" cy="377.20" r="2.85"/><circle cx="142.50" cy="383.20" r="2.85"/><circle cx="143.60" cy="389.80" r="2.85"/><circle cx="144.30" cy="396.10" r="2.85"/></g>
</g>
<rect x="133.25" y="245.4" width="80.8" height="156.99999999999997" fill="none" stroke="#3a3a3a" stroke-width="0.75"/>
<line x1="131.25" y1="402.40" x2="133.25" y2="402.40" stroke="#000" stroke-width="0.7"/>
<text x="129.95" y="404.60" text-anchor="end" class="tk">0.0</text>
<line x1="131.25" y1="371.00" x2="133.25" y2="371.00" stroke="#000" stroke-width="0.7"/>
<text x="129.95" y="373.20" text-anchor="end" class="tk">0.5</text>
<line x1="131.25" y1="339.60" x2="133.25" y2="339.60" stroke="#000" stroke-width="0.7"/>
<text x="129.95" y="341.80" text-anchor="end" class="tk">1.0</text>
<line x1="131.25" y1="308.20" x2="133.25" y2="308.20" stroke="#000" stroke-width="0.7"/>
<text x="129.95" y="310.40" text-anchor="end" class="tk">1.5</text>
<line x1="131.25" y1="276.80" x2="133.25" y2="276.80" stroke="#000" stroke-width="0.7"/>
<text x="129.95" y="279.00" text-anchor="end" class="tk">2.0</text>
<line x1="131.25" y1="245.40" x2="133.25" y2="245.40" stroke="#000" stroke-width="0.7"/>
<text x="129.95" y="247.60" text-anchor="end" class="tk">2.5</text>
<line x1="133.25" y1="402.4" x2="133.25" y2="404.2" stroke="#000" stroke-width="0.7"/>
<text x="133.25" y="409.70" text-anchor="middle" class="tk">0</text>
<line x1="173.65" y1="402.4" x2="173.65" y2="404.2" stroke="#000" stroke-width="0.7"/>
<text x="173.65" y="409.70" text-anchor="middle" class="tk">1</text>
<line x1="214.05" y1="402.4" x2="214.05" y2="404.2" stroke="#000" stroke-width="0.7"/>
<text x="214.05" y="409.70" text-anchor="middle" class="tk">2</text>
<text x="113.65" y="230.80" class="pl">(g)</text>
<g transform="translate(120.45 324.00) rotate(-90)"><text x="-8.1" y="0" class="al" font-style="italic">z</text><text x="-3.0" y="2.4" class="sly">/</text><text x="2.2" y="0" class="al" textLength="6.3" lengthAdjust="spacingAndGlyphs">H</text></g>
<text x="140.70" y="421.00" class="br">⟨</text>
<text x="145.30" y="419.90" class="al">TKE</text>
<text x="165.10" y="421.00" class="br">⟩</text>
<text x="169.70" y="422.10" class="sl">/</text>
<text x="174.90" y="421.00" class="br">⟨</text>
<text x="179.60" y="419.90" class="al">TKE</text>
<text x="198.30" y="421.50" class="sb">s</text>
<text x="201.20" y="421.00" class="br">⟩</text>
<line x1="144.70" y1="411.30" x2="165.40" y2="411.30" stroke="#333" stroke-width="0.7"/>
<line x1="178.90" y1="411.10" x2="199.50" y2="411.10" stroke="#333" stroke-width="0.7"/>
<clipPath id="c12"><rect x="242.5" y="245.4" width="80.8" height="156.99999999999997"/></clipPath>
<g clip-path="url(#c12)">
<path d="M252.00,245.40 C252.14,245.95 252.78,248.44 253.07,249.55 C253.35,250.66 253.85,252.59 254.14,253.70 C254.42,254.80 254.90,256.75 255.20,257.85 C255.51,258.95 256.09,260.86 256.42,261.95 C256.75,263.04 257.39,264.94 257.69,266.04 C257.99,267.14 258.39,269.10 258.67,270.19 C258.96,271.28 259.56,273.13 259.85,274.21 C260.14,275.29 260.68,277.16 260.84,278.28 C260.99,279.39 260.92,281.41 261.02,282.54 C261.12,283.67 261.38,285.62 261.59,286.73 C261.80,287.84 262.40,289.73 262.62,290.84 C262.85,291.95 263.14,293.91 263.31,295.04 C263.47,296.16 263.56,298.19 263.86,299.27 C264.15,300.35 264.90,302.22 265.54,303.11 C266.18,304.01 267.95,305.17 268.67,305.99 C269.38,306.81 270.47,308.29 270.91,309.27 C271.35,310.25 271.66,312.25 271.96,313.34 C272.26,314.43 272.84,316.35 273.16,317.45 C273.48,318.54 274.08,320.45 274.38,321.55 C274.67,322.65 275.05,324.64 275.40,325.71 C275.75,326.77 276.37,328.63 277.00,329.52 C277.62,330.41 279.24,331.70 280.12,332.39 C281.00,333.08 283.23,334.07 283.60,334.70 C283.97,335.33 283.56,336.68 282.91,337.09 C282.27,337.50 279.86,337.47 278.78,337.75 C277.69,338.03 275.83,338.85 274.74,339.19 C273.65,339.52 271.73,340.04 270.62,340.27 C269.50,340.50 267.51,340.73 266.38,340.90 C265.25,341.07 263.27,341.37 262.14,341.54 C261.01,341.71 259.03,341.95 257.91,342.17 C256.79,342.39 254.79,342.78 253.76,343.19 C252.72,343.61 250.68,344.45 250.15,345.28 C249.63,346.11 249.83,348.32 249.83,349.44 C249.82,350.57 249.99,352.58 250.14,353.71 C250.28,354.84 250.54,356.88 250.90,357.93 C251.26,358.97 252.15,360.68 252.85,361.53 C253.54,362.37 255.40,363.43 256.13,364.27 C256.87,365.12 258.09,366.82 258.38,367.85 C258.66,368.88 258.67,370.99 258.29,371.98 C257.92,372.97 256.29,374.38 255.58,375.27 C254.88,376.16 253.55,377.68 253.00,378.66 C252.45,379.65 251.51,381.60 251.49,382.67 C251.46,383.74 252.40,385.63 252.83,386.68 C253.26,387.73 254.27,389.48 254.70,390.53 C255.13,391.58 255.85,393.47 256.05,394.56 C256.25,395.66 256.45,397.85 256.21,398.78 C255.98,399.70 255.09,401.10 254.26,401.50 C253.43,401.89 251.12,401.69 249.98,401.75 C248.84,401.82 246.71,401.95 245.71,402.01 C244.71,402.07 242.93,402.17 242.50,402.20" fill="none" stroke="#bfbf00" stroke-width="1.2" stroke-linejoin="round" stroke-dasharray="1.05 1.3"/>
<path d="M252.00,245.40 C252.47,247.21 254.62,255.99 255.50,259.00 C256.38,262.01 258.13,266.53 258.60,268.00 C259.07,269.47 258.88,268.80 259.00,270.00 C259.12,271.20 259.30,275.00 259.50,277.00 C259.70,279.00 259.98,283.00 260.50,285.00 C261.02,287.00 262.77,290.00 263.40,292.00 C264.03,294.00 264.89,298.75 265.20,300.00 C265.51,301.25 265.13,300.64 265.70,301.40 C266.27,302.16 268.65,304.91 269.50,305.70 C270.35,306.49 271.75,306.45 272.10,307.30 C272.45,308.15 271.87,310.59 272.10,312.10 C272.33,313.61 273.36,317.01 273.80,318.60 C274.24,320.19 275.12,322.85 275.40,324.00 C275.68,325.15 275.33,326.20 275.90,327.20 C276.47,328.20 278.62,330.49 279.70,331.50 C280.78,332.51 283.32,333.93 284.00,334.80 C284.68,335.67 285.28,337.64 284.80,338.00 C284.32,338.36 282.05,337.23 280.40,337.50 C278.75,337.77 274.53,339.51 272.40,340.00 C270.27,340.49 266.53,340.88 264.40,341.20 C262.27,341.52 258.00,342.08 256.40,342.40 C254.80,342.72 253.25,343.23 252.40,343.60 C251.55,343.97 250.35,344.67 250.00,345.20 C249.65,345.73 249.76,346.43 249.80,347.60 C249.84,348.77 250.14,352.61 250.30,354.00 C250.46,355.39 250.81,357.13 251.00,358.00 C251.19,358.87 251.30,359.90 251.70,360.50 C252.10,361.10 253.39,361.97 254.00,362.50 C254.61,363.03 255.77,363.90 256.30,364.50 C256.83,365.10 257.69,366.33 258.00,367.00 C258.31,367.67 258.55,368.90 258.60,369.50 C258.65,370.10 258.59,370.97 258.40,371.50 C258.21,372.03 257.63,372.97 257.20,373.50 C256.77,374.03 255.76,374.85 255.20,375.50 C254.64,376.15 253.52,377.41 253.00,378.40 C252.48,379.39 251.30,381.70 251.30,382.90 C251.30,384.10 252.47,386.20 253.00,387.40 C253.53,388.60 254.85,390.70 255.30,391.90 C255.75,393.10 256.33,395.13 256.40,396.40 C256.47,397.67 257.65,400.63 255.80,401.40 C253.95,402.17 244.27,402.09 242.50,402.20" fill="none" stroke="#ff1a1a" stroke-width="1.2" stroke-linejoin="round" stroke-dasharray="6.2 0.9 1.0 0.9"/>
<path d="M252.00,245.40 C252.47,247.21 254.70,255.99 255.50,259.00 C256.30,262.01 257.64,266.53 258.00,268.00 C258.36,269.47 257.67,268.80 258.20,270.00 C258.73,271.20 261.53,275.00 262.00,277.00 C262.47,279.00 261.65,283.00 261.70,285.00 C261.75,287.00 262.27,290.00 262.40,292.00 C262.53,294.00 262.47,298.47 262.70,300.00 C262.93,301.53 263.34,302.59 264.10,303.50 C264.86,304.41 267.47,305.65 268.40,306.80 C269.33,307.95 270.46,310.53 271.10,312.10 C271.74,313.67 272.71,317.01 273.20,318.60 C273.69,320.19 274.44,322.56 274.80,324.00 C275.16,325.44 275.39,328.32 275.90,329.40 C276.41,330.48 277.73,331.55 278.60,332.10 C279.47,332.65 281.61,333.01 282.40,333.50 C283.19,333.99 284.77,335.36 284.50,335.80 C284.23,336.24 282.01,336.24 280.40,336.80 C278.79,337.36 274.53,339.41 272.40,340.00 C270.27,340.59 266.53,340.88 264.40,341.20 C262.27,341.52 258.00,342.08 256.40,342.40 C254.80,342.72 253.25,343.23 252.40,343.60 C251.55,343.97 250.37,344.67 250.00,345.20 C249.63,345.73 249.60,346.43 249.60,347.60 C249.60,348.77 249.84,352.61 250.00,354.00 C250.16,355.39 250.60,357.13 250.80,358.00 C251.00,358.87 251.07,359.90 251.50,360.50 C251.93,361.10 253.33,361.97 254.00,362.50 C254.67,363.03 255.93,363.90 256.50,364.50 C257.07,365.10 257.97,366.33 258.30,367.00 C258.63,367.67 258.93,368.90 259.00,369.50 C259.07,370.10 259.00,370.97 258.80,371.50 C258.60,372.03 257.94,372.97 257.50,373.50 C257.06,374.03 256.07,374.85 255.50,375.50 C254.93,376.15 253.73,377.41 253.20,378.40 C252.67,379.39 251.50,381.70 251.50,382.90 C251.50,384.10 252.67,386.20 253.20,387.40 C253.73,388.60 255.05,390.70 255.50,391.90 C255.95,393.10 256.53,395.13 256.60,396.40 C256.67,397.67 257.88,400.63 256.00,401.40 C254.12,402.17 244.30,402.09 242.50,402.20" fill="none" stroke="#008000" stroke-width="1.2" stroke-linejoin="round"/>
<path d="M255.90,245.40 C255.99,247.21 256.64,255.99 256.60,259.00 C256.56,262.01 255.76,266.53 255.60,268.00 C255.44,269.47 255.39,268.80 255.40,270.00 C255.41,271.20 255.47,275.00 255.70,277.00 C255.93,279.00 256.63,283.00 257.10,285.00 C257.57,287.00 258.64,290.00 259.20,292.00 C259.76,294.00 260.73,298.47 261.30,300.00 C261.87,301.53 262.63,302.59 263.50,303.50 C264.37,304.41 266.93,305.65 267.80,306.80 C268.67,307.95 269.49,310.67 270.00,312.10 C270.51,313.53 271.17,316.06 271.60,317.50 C272.03,318.94 272.84,321.46 273.20,322.90 C273.56,324.34 273.94,327.01 274.30,328.30 C274.66,329.59 275.18,331.81 275.90,332.60 C276.62,333.39 278.62,333.69 279.70,334.20 C280.78,334.71 283.91,336.03 284.00,336.40 C284.09,336.77 281.95,336.52 280.40,337.00 C278.85,337.48 274.53,339.44 272.40,340.00 C270.27,340.56 266.53,340.88 264.40,341.20 C262.27,341.52 258.00,342.08 256.40,342.40 C254.80,342.72 253.25,343.23 252.40,343.60 C251.55,343.97 250.29,344.67 250.00,345.20 C249.71,345.73 249.99,346.43 250.20,347.60 C250.41,348.77 251.31,352.61 251.60,354.00 C251.89,355.39 252.21,357.13 252.40,358.00 C252.59,358.87 252.63,359.93 253.00,360.50 C253.37,361.07 254.59,361.79 255.20,362.30 C255.81,362.81 257.04,363.70 257.60,364.30 C258.16,364.90 259.05,366.11 259.40,366.80 C259.75,367.49 260.12,368.85 260.20,369.50 C260.28,370.15 260.23,371.13 260.00,371.70 C259.77,372.27 259.01,373.25 258.50,373.80 C257.99,374.35 256.83,375.19 256.20,375.80 C255.57,376.41 254.37,377.45 253.80,378.40 C253.23,379.35 251.93,381.70 251.90,382.90 C251.87,384.10 253.07,386.20 253.60,387.40 C254.13,388.60 255.45,390.70 255.90,391.90 C256.35,393.10 256.93,395.13 257.00,396.40 C257.07,397.67 258.33,400.63 256.40,401.40 C254.47,402.17 244.35,402.09 242.50,402.20" fill="none" stroke="#1a1aff" stroke-width="1.2" stroke-linejoin="round" stroke-dasharray="1.05 1.3"/>
<path d="M251.70,245.40 C252.17,247.21 254.45,255.99 255.20,259.00 C255.95,262.01 256.95,266.53 257.30,268.00 C257.65,269.47 257.55,268.80 257.80,270.00 C258.05,271.20 258.87,275.00 259.20,277.00 C259.53,279.00 260.11,283.00 260.30,285.00 C260.49,287.00 260.51,290.00 260.60,292.00 C260.69,294.00 260.83,298.60 261.00,300.00 C261.17,301.40 261.49,301.46 261.90,302.50 C262.31,303.54 263.67,306.23 264.10,307.80 C264.53,309.37 264.82,312.71 265.10,314.30 C265.38,315.89 265.84,318.26 266.20,319.70 C266.56,321.14 267.29,323.67 267.80,325.10 C268.31,326.53 269.28,329.33 270.00,330.40 C270.72,331.47 272.20,332.51 273.20,333.10 C274.20,333.69 276.35,334.32 277.50,334.80 C278.65,335.28 281.41,336.41 281.80,336.70 C282.19,336.99 281.65,336.56 280.40,337.00 C279.15,337.44 274.53,339.44 272.40,340.00 C270.27,340.56 266.53,340.88 264.40,341.20 C262.27,341.52 258.00,342.08 256.40,342.40 C254.80,342.72 253.25,343.23 252.40,343.60 C251.55,343.97 250.41,344.67 250.00,345.20 C249.59,345.73 249.50,346.69 249.30,347.60 C249.10,348.51 248.73,350.72 248.50,352.00 C248.27,353.28 247.60,356.00 247.60,357.20 C247.60,358.40 248.11,360.03 248.50,361.00 C248.89,361.97 250.03,363.57 250.50,364.50 C250.97,365.43 251.73,367.13 252.00,368.00 C252.27,368.87 252.50,370.13 252.50,371.00 C252.50,371.87 252.16,373.51 252.00,374.50 C251.84,375.49 251.43,377.28 251.30,378.40 C251.17,379.52 250.80,381.70 251.00,382.90 C251.20,384.10 252.25,386.20 252.80,387.40 C253.35,388.60 254.65,390.70 255.10,391.90 C255.55,393.10 256.13,395.13 256.20,396.40 C256.27,397.67 257.43,400.63 255.60,401.40 C253.77,402.17 244.25,402.09 242.50,402.20" fill="none" stroke="#000000" stroke-width="1.2" stroke-linejoin="round" stroke-dasharray="3.2 1.4"/>
<g fill="#cac400" stroke="#000" stroke-width="0.85"><circle cx="286.70" cy="314.40" r="2.85"/><circle cx="282.10" cy="326.90" r="2.85"/><circle cx="283.90" cy="333.20" r="2.85"/><circle cx="276.50" cy="339.70" r="2.85"/><circle cx="247.50" cy="352.10" r="2.85"/><circle cx="250.10" cy="364.60" r="2.85"/><circle cx="251.90" cy="370.90" r="2.85"/><circle cx="251.90" cy="377.20" r="2.85"/><circle cx="249.40" cy="383.20" r="2.85"/><circle cx="252.20" cy="389.80" r="2.85"/><circle cx="255.40" cy="395.90" r="2.85"/></g>
</g>
<rect x="242.5" y="245.4" width="80.8" height="156.99999999999997" fill="none" stroke="#3a3a3a" stroke-width="0.75"/>
<line x1="240.5" y1="402.40" x2="242.5" y2="402.40" stroke="#000" stroke-width="0.7"/>
<text x="239.20" y="404.60" text-anchor="end" class="tk">0.0</text>
<line x1="240.5" y1="371.00" x2="242.5" y2="371.00" stroke="#000" stroke-width="0.7"/>
<text x="239.20" y="373.20" text-anchor="end" class="tk">0.5</text>
<line x1="240.5" y1="339.60" x2="242.5" y2="339.60" stroke="#000" stroke-width="0.7"/>
<text x="239.20" y="341.80" text-anchor="end" class="tk">1.0</text>
<line x1="240.5" y1="308.20" x2="242.5" y2="308.20" stroke="#000" stroke-width="0.7"/>
<text x="239.20" y="310.40" text-anchor="end" class="tk">1.5</text>
<line x1="240.5" y1="276.80" x2="242.5" y2="276.80" stroke="#000" stroke-width="0.7"/>
<text x="239.20" y="279.00" text-anchor="end" class="tk">2.0</text>
<line x1="240.5" y1="245.40" x2="242.5" y2="245.40" stroke="#000" stroke-width="0.7"/>
<text x="239.20" y="247.60" text-anchor="end" class="tk">2.5</text>
<line x1="242.50" y1="402.4" x2="242.50" y2="404.2" stroke="#000" stroke-width="0.7"/>
<text x="242.50" y="409.70" text-anchor="middle" class="tk">0</text>
<line x1="282.90" y1="402.4" x2="282.90" y2="404.2" stroke="#000" stroke-width="0.7"/>
<text x="282.90" y="409.70" text-anchor="middle" class="tk">1</text>
<line x1="323.30" y1="402.4" x2="323.30" y2="404.2" stroke="#000" stroke-width="0.7"/>
<text x="323.30" y="409.70" text-anchor="middle" class="tk">2</text>
<text x="222.90" y="230.80" class="pl">(h)</text>
<g transform="translate(229.70 324.00) rotate(-90)"><text x="-8.1" y="0" class="al" font-style="italic">z</text><text x="-3.0" y="2.4" class="sly">/</text><text x="2.2" y="0" class="al" textLength="6.3" lengthAdjust="spacingAndGlyphs">H</text></g>
<text x="249.95" y="421.00" class="br">⟨</text>
<text x="254.55" y="419.90" class="al">TKE</text>
<text x="274.35" y="421.00" class="br">⟩</text>
<text x="278.95" y="422.10" class="sl">/</text>
<text x="284.15" y="421.00" class="br">⟨</text>
<text x="288.85" y="419.90" class="al">TKE</text>
<text x="307.55" y="421.50" class="sb">s</text>
<text x="310.45" y="421.00" class="br">⟩</text>
<line x1="253.95" y1="411.30" x2="274.65" y2="411.30" stroke="#333" stroke-width="0.7"/>
<line x1="288.15" y1="411.10" x2="308.75" y2="411.10" stroke="#333" stroke-width="0.7"/>
<clipPath id="c13"><rect x="351.75" y="245.4" width="80.8" height="156.99999999999997"/></clipPath>
<g clip-path="url(#c13)">
<path d="M360.60,245.40 C360.73,245.98 361.29,248.58 361.54,249.74 C361.79,250.89 362.23,252.92 362.48,254.08 C362.73,255.23 363.12,257.27 363.42,258.41 C363.72,259.56 364.38,261.52 364.74,262.64 C365.10,263.77 365.80,265.73 366.11,266.86 C366.43,267.98 366.77,269.99 367.09,271.10 C367.41,272.21 368.18,274.08 368.49,275.19 C368.81,276.30 369.27,278.28 369.46,279.43 C369.66,280.58 369.74,282.69 369.93,283.84 C370.13,285.00 370.64,286.96 370.91,288.08 C371.18,289.21 371.74,291.15 371.97,292.29 C372.20,293.43 372.41,295.48 372.61,296.64 C372.81,297.79 373.06,299.90 373.47,300.97 C373.88,302.04 374.99,303.70 375.65,304.64 C376.31,305.59 377.80,307.08 378.43,308.07 C379.05,309.05 379.89,310.95 380.32,312.04 C380.75,313.13 381.32,315.13 381.66,316.26 C381.99,317.38 382.49,319.38 382.84,320.50 C383.18,321.61 383.75,323.59 384.23,324.64 C384.72,325.70 385.67,327.59 386.49,328.37 C387.31,329.16 389.32,329.98 390.38,330.51 C391.44,331.03 393.47,331.67 394.44,332.29 C395.40,332.92 397.33,334.34 397.62,335.21 C397.90,336.08 397.27,338.10 396.58,338.79 C395.89,339.49 393.60,340.10 392.47,340.44 C391.34,340.77 389.28,341.08 388.11,341.31 C386.95,341.54 384.92,341.94 383.76,342.17 C382.60,342.40 380.57,342.80 379.41,343.03 C378.25,343.26 376.21,343.66 375.05,343.89 C373.89,344.12 371.84,344.45 370.70,344.75 C369.56,345.06 367.58,345.72 366.50,346.18 C365.42,346.63 363.49,347.45 362.61,348.17 C361.72,348.88 360.30,350.53 359.83,351.56 C359.36,352.59 359.15,354.71 359.08,355.87 C359.01,357.04 359.22,359.12 359.30,360.30 C359.38,361.48 359.56,363.54 359.65,364.72 C359.75,365.90 359.87,367.97 359.99,369.15 C360.11,370.32 360.39,372.37 360.58,373.54 C360.77,374.71 361.10,376.75 361.40,377.90 C361.70,379.04 362.32,381.04 362.83,382.10 C363.34,383.15 364.68,384.79 365.24,385.82 C365.80,386.85 366.64,388.72 367.04,389.83 C367.43,390.93 367.94,392.95 368.22,394.10 C368.49,395.25 368.51,397.50 369.07,398.45 C369.63,399.41 372.50,400.88 372.41,401.30 C372.32,401.71 369.51,401.50 368.38,401.56 C367.25,401.62 365.13,401.69 363.95,401.73 C362.76,401.78 360.69,401.86 359.51,401.90 C358.33,401.95 356.11,402.03 355.08,402.07 C354.04,402.11 352.19,402.18 351.75,402.20" fill="none" stroke="#bfbf00" stroke-width="1.2" stroke-linejoin="round" stroke-dasharray="1.05 1.3"/>
<path d="M360.60,245.40 C360.99,247.21 362.65,255.99 363.50,259.00 C364.35,262.01 366.49,266.53 367.00,268.00 C367.51,269.47 367.17,268.80 367.30,270.00 C367.43,271.20 367.77,275.00 368.00,277.00 C368.23,279.00 368.40,283.00 369.00,285.00 C369.60,287.00 371.87,290.53 372.50,292.00 C373.13,293.47 373.33,294.75 373.70,296.00 C374.07,297.25 374.73,300.25 375.30,301.40 C375.87,302.55 377.36,303.88 378.00,304.60 C378.64,305.32 379.61,306.08 380.10,306.80 C380.59,307.52 381.41,309.15 381.70,310.00 C381.99,310.85 382.07,312.20 382.30,313.20 C382.53,314.20 383.19,316.21 383.40,317.50 C383.61,318.79 383.55,321.46 383.90,322.90 C384.25,324.34 385.15,327.30 386.00,328.30 C386.85,329.30 389.10,329.84 390.30,330.40 C391.50,330.96 394.00,331.82 395.00,332.50 C396.00,333.18 397.47,334.73 397.80,335.50 C398.13,336.27 398.15,337.66 397.50,338.30 C396.85,338.94 394.11,339.91 392.90,340.30 C391.69,340.69 390.21,340.84 388.40,341.20 C386.59,341.56 381.73,342.52 379.30,343.00 C376.87,343.48 372.27,344.25 370.20,344.80 C368.13,345.35 365.01,346.49 363.80,347.10 C362.59,347.71 361.69,348.72 361.10,349.40 C360.51,350.08 359.69,351.23 359.40,352.20 C359.11,353.17 358.90,355.30 358.90,356.70 C358.90,358.10 359.25,360.85 359.40,362.70 C359.55,364.55 359.77,368.65 360.00,370.60 C360.23,372.55 360.73,375.74 361.10,377.30 C361.47,378.86 362.12,380.95 362.80,382.30 C363.48,383.65 365.52,385.97 366.20,387.40 C366.88,388.83 367.53,391.51 367.90,393.00 C368.27,394.49 368.53,397.56 369.00,398.60 C369.47,399.64 370.93,400.43 371.40,400.80 C371.87,401.17 375.12,401.21 372.50,401.40 C369.88,401.59 354.52,402.09 351.75,402.20" fill="none" stroke="#ff1a1a" stroke-width="1.2" stroke-linejoin="round" stroke-dasharray="6.2 0.9 1.0 0.9"/>
<path d="M360.60,245.40 C361.00,247.21 362.88,255.99 363.60,259.00 C364.32,262.01 365.68,266.53 366.00,268.00 C366.32,269.47 365.41,268.80 366.00,270.00 C366.59,271.20 369.72,275.00 370.40,277.00 C371.08,279.00 370.97,283.00 371.10,285.00 C371.23,287.00 371.37,290.53 371.40,292.00 C371.43,293.47 371.21,294.47 371.30,296.00 C371.39,297.53 371.57,302.06 372.10,303.50 C372.63,304.94 374.45,305.65 375.30,306.80 C376.15,307.95 377.78,310.67 378.50,312.10 C379.22,313.53 380.05,315.91 380.70,317.50 C381.35,319.09 382.61,322.56 383.40,324.00 C384.19,325.44 385.60,327.38 386.60,328.30 C387.60,329.22 389.61,330.26 390.90,330.90 C392.19,331.54 395.30,332.38 396.30,333.10 C397.30,333.82 398.24,335.58 398.40,336.30 C398.56,337.02 398.23,337.95 397.50,338.50 C396.77,339.05 394.11,340.03 392.90,340.40 C391.69,340.77 390.21,340.94 388.40,341.30 C386.59,341.66 381.73,342.62 379.30,343.10 C376.87,343.58 372.27,344.35 370.20,344.90 C368.13,345.45 365.01,346.59 363.80,347.20 C362.59,347.81 361.67,348.83 361.10,349.50 C360.53,350.17 359.77,351.24 359.50,352.20 C359.23,353.16 359.09,355.30 359.10,356.70 C359.11,358.10 359.45,360.85 359.60,362.70 C359.75,364.55 359.97,368.65 360.20,370.60 C360.43,372.55 360.93,375.74 361.30,377.30 C361.67,378.86 362.32,380.95 363.00,382.30 C363.68,383.65 365.72,385.97 366.40,387.40 C367.08,388.83 367.73,391.51 368.10,393.00 C368.47,394.49 368.73,397.56 369.20,398.60 C369.67,399.64 371.13,400.43 371.60,400.80 C372.07,401.17 375.35,401.21 372.70,401.40 C370.05,401.59 354.54,402.09 351.75,402.20" fill="none" stroke="#008000" stroke-width="1.2" stroke-linejoin="round"/>
<path d="M365.30,245.40 C365.35,247.21 365.70,255.99 365.70,259.00 C365.70,262.01 365.42,266.53 365.30,268.00 C365.18,269.47 364.83,268.80 364.80,270.00 C364.77,271.20 364.87,275.00 365.10,277.00 C365.33,279.00 366.11,283.00 366.50,285.00 C366.89,287.00 367.55,290.53 368.00,292.00 C368.45,293.47 369.50,294.47 369.90,296.00 C370.30,297.53 370.43,302.06 371.00,303.50 C371.57,304.94 373.35,305.65 374.20,306.80 C375.05,307.95 376.61,310.53 377.40,312.10 C378.19,313.67 379.38,317.01 380.10,318.60 C380.82,320.19 382.08,322.71 382.80,324.00 C383.52,325.29 384.57,327.30 385.50,328.30 C386.43,329.30 388.51,330.86 389.80,331.50 C391.09,332.14 394.05,332.61 395.20,333.10 C396.35,333.59 397.83,334.69 398.40,335.20 C398.97,335.71 399.62,336.43 399.50,336.90 C399.38,337.37 398.38,338.22 397.50,338.70 C396.62,339.18 394.11,340.14 392.90,340.50 C391.69,340.86 390.21,341.04 388.40,341.40 C386.59,341.76 381.73,342.72 379.30,343.20 C376.87,343.68 372.27,344.45 370.20,345.00 C368.13,345.55 364.99,346.69 363.80,347.30 C362.61,347.91 361.83,348.95 361.30,349.60 C360.77,350.25 360.04,351.25 359.80,352.20 C359.56,353.15 359.47,355.30 359.50,356.70 C359.53,358.10 359.85,360.85 360.00,362.70 C360.15,364.55 360.37,368.65 360.60,370.60 C360.83,372.55 361.33,375.74 361.70,377.30 C362.07,378.86 362.72,380.95 363.40,382.30 C364.08,383.65 366.12,385.97 366.80,387.40 C367.48,388.83 368.13,391.51 368.50,393.00 C368.87,394.49 369.13,397.56 369.60,398.60 C370.07,399.64 371.53,400.43 372.00,400.80 C372.47,401.17 375.80,401.21 373.10,401.40 C370.40,401.59 354.60,402.09 351.75,402.20" fill="none" stroke="#1a1aff" stroke-width="1.2" stroke-linejoin="round" stroke-dasharray="1.05 1.3"/>
<path d="M360.40,245.40 C360.77,247.21 362.64,255.99 363.20,259.00 C363.76,262.01 364.35,266.53 364.60,268.00 C364.85,269.47 364.75,268.80 365.10,270.00 C365.45,271.20 366.77,275.00 367.20,277.00 C367.63,279.00 368.06,283.00 368.30,285.00 C368.54,287.00 368.93,290.53 369.00,292.00 C369.07,293.47 368.83,294.60 368.80,296.00 C368.77,297.40 368.36,301.06 368.80,302.50 C369.24,303.94 371.38,305.65 372.10,306.80 C372.82,307.95 373.77,309.67 374.20,311.10 C374.63,312.53 375.01,315.78 375.30,317.50 C375.59,319.22 375.89,322.56 376.40,324.00 C376.91,325.44 378.17,327.23 379.10,328.30 C380.03,329.37 382.25,331.29 383.40,332.00 C384.55,332.71 386.55,333.17 387.70,333.60 C388.85,334.03 391.67,334.75 392.00,335.20 C392.33,335.65 390.68,336.19 390.20,337.00 C389.72,337.81 389.85,340.49 388.40,341.30 C386.95,342.11 381.73,342.62 379.30,343.10 C376.87,343.58 372.27,344.35 370.20,344.90 C368.13,345.45 365.01,346.59 363.80,347.20 C362.59,347.81 361.70,348.83 361.10,349.50 C360.50,350.17 359.61,351.24 359.30,352.20 C358.99,353.16 358.80,355.30 358.80,356.70 C358.80,358.10 359.15,360.85 359.30,362.70 C359.45,364.55 359.67,368.65 359.90,370.60 C360.13,372.55 360.63,375.74 361.00,377.30 C361.37,378.86 362.06,380.95 362.70,382.30 C363.34,383.65 365.20,386.11 365.80,387.40 C366.40,388.69 367.20,390.96 367.20,392.00 C367.20,393.04 365.88,394.17 365.80,395.20 C365.72,396.23 365.83,398.90 366.60,399.70 C367.37,400.50 373.58,400.87 371.60,401.20 C369.62,401.53 354.40,402.07 351.75,402.20" fill="none" stroke="#000000" stroke-width="1.2" stroke-linejoin="round" stroke-dasharray="3.2 1.4"/>
<g fill="#cac400" stroke="#000" stroke-width="0.85"><circle cx="392.80" cy="314.40" r="2.85"/><circle cx="391.60" cy="326.60" r="2.85"/><circle cx="393.90" cy="333.20" r="2.85"/><circle cx="388.80" cy="339.70" r="2.85"/><circle cx="358.40" cy="352.10" r="2.85"/><circle cx="357.70" cy="364.60" r="2.85"/><circle cx="356.60" cy="370.90" r="2.85"/><circle cx="359.40" cy="377.20" r="2.85"/><circle cx="363.00" cy="383.10" r="2.85"/><circle cx="366.10" cy="389.80" r="2.85"/><circle cx="370.70" cy="396.10" r="2.85"/></g>
</g>
<rect x="351.75" y="245.4" width="80.8" height="156.99999999999997" fill="none" stroke="#3a3a3a" stroke-width="0.75"/>
<line x1="349.75" y1="402.40" x2="351.75" y2="402.40" stroke="#000" stroke-width="0.7"/>
<text x="348.45" y="404.60" text-anchor="end" class="tk">0.0</text>
<line x1="349.75" y1="371.00" x2="351.75" y2="371.00" stroke="#000" stroke-width="0.7"/>
<text x="348.45" y="373.20" text-anchor="end" class="tk">0.5</text>
<line x1="349.75" y1="339.60" x2="351.75" y2="339.60" stroke="#000" stroke-width="0.7"/>
<text x="348.45" y="341.80" text-anchor="end" class="tk">1.0</text>
<line x1="349.75" y1="308.20" x2="351.75" y2="308.20" stroke="#000" stroke-width="0.7"/>
<text x="348.45" y="310.40" text-anchor="end" class="tk">1.5</text>
<line x1="349.75" y1="276.80" x2="351.75" y2="276.80" stroke="#000" stroke-width="0.7"/>
<text x="348.45" y="279.00" text-anchor="end" class="tk">2.0</text>
<line x1="349.75" y1="245.40" x2="351.75" y2="245.40" stroke="#000" stroke-width="0.7"/>
<text x="348.45" y="247.60" text-anchor="end" class="tk">2.5</text>
<line x1="351.75" y1="402.4" x2="351.75" y2="404.2" stroke="#000" stroke-width="0.7"/>
<text x="351.75" y="409.70" text-anchor="middle" class="tk">0</text>
<line x1="392.15" y1="402.4" x2="392.15" y2="404.2" stroke="#000" stroke-width="0.7"/>
<text x="392.15" y="409.70" text-anchor="middle" class="tk">1</text>
<line x1="432.55" y1="402.4" x2="432.55" y2="404.2" stroke="#000" stroke-width="0.7"/>
<text x="432.55" y="409.70" text-anchor="middle" class="tk">2</text>
<text x="332.15" y="230.80" class="pl">(i)</text>
<g transform="translate(338.95 324.00) rotate(-90)"><text x="-8.1" y="0" class="al" font-style="italic">z</text><text x="-3.0" y="2.4" class="sly">/</text><text x="2.2" y="0" class="al" textLength="6.3" lengthAdjust="spacingAndGlyphs">H</text></g>
<text x="359.20" y="421.00" class="br">⟨</text>
<text x="363.80" y="419.90" class="al">TKE</text>
<text x="383.60" y="421.00" class="br">⟩</text>
<text x="388.20" y="422.10" class="sl">/</text>
<text x="393.40" y="421.00" class="br">⟨</text>
<text x="398.10" y="419.90" class="al">TKE</text>
<text x="416.80" y="421.50" class="sb">s</text>
<text x="419.70" y="421.00" class="br">⟩</text>
<line x1="363.20" y1="411.30" x2="383.90" y2="411.30" stroke="#333" stroke-width="0.7"/>
<line x1="397.40" y1="411.10" x2="418.00" y2="411.10" stroke="#333" stroke-width="0.7"/>
<clipPath id="c14"><rect x="461.0" y="245.4" width="80.8" height="156.99999999999997"/></clipPath>
<g clip-path="url(#c14)">
<path d="M469.90,245.40 C470.05,245.94 470.70,248.39 470.99,249.48 C471.29,250.57 471.80,252.47 472.09,253.56 C472.38,254.65 472.92,256.55 473.18,257.64 C473.45,258.73 473.87,260.66 474.10,261.76 C474.33,262.86 474.70,264.80 474.93,265.90 C475.15,267.00 475.45,268.95 475.82,270.00 C476.19,271.04 477.22,272.74 477.71,273.74 C478.20,274.75 479.21,276.45 479.49,277.51 C479.76,278.58 479.69,280.60 479.79,281.72 C479.89,282.84 480.08,284.79 480.22,285.90 C480.36,287.01 480.73,288.93 480.83,290.04 C480.93,291.15 480.97,293.11 481.00,294.23 C481.02,295.34 480.90,297.33 481.01,298.43 C481.12,299.53 481.36,301.52 481.83,302.47 C482.31,303.42 483.79,304.78 484.57,305.56 C485.35,306.35 486.96,307.52 487.68,308.35 C488.41,309.18 489.59,310.77 490.03,311.77 C490.46,312.77 490.69,314.76 490.95,315.85 C491.22,316.93 491.77,318.84 492.01,319.92 C492.26,321.00 492.37,322.94 492.75,323.94 C493.14,324.94 494.17,326.64 494.92,327.43 C495.68,328.21 497.43,329.26 498.39,329.84 C499.36,330.41 501.16,331.22 502.15,331.75 C503.14,332.27 505.00,333.09 505.82,333.76 C506.63,334.43 508.30,335.95 508.28,336.74 C508.25,337.54 506.45,339.02 505.65,339.75 C504.85,340.49 503.17,341.61 502.24,342.25 C501.31,342.88 499.63,343.90 498.69,344.53 C497.76,345.16 496.15,346.29 495.22,346.94 C494.30,347.59 492.69,348.72 491.79,349.39 C490.88,350.05 489.24,351.18 488.42,351.94 C487.60,352.69 486.27,354.16 485.62,355.06 C484.97,355.96 484.02,357.71 483.53,358.71 C483.03,359.71 482.26,361.53 481.88,362.59 C481.49,363.64 480.90,365.53 480.66,366.62 C480.42,367.72 480.20,369.69 480.06,370.80 C479.93,371.92 479.72,373.88 479.63,375.00 C479.54,376.12 479.41,378.09 479.38,379.22 C479.35,380.34 479.34,382.31 479.37,383.44 C479.40,384.56 479.47,386.54 479.62,387.65 C479.77,388.76 480.16,390.67 480.48,391.74 C480.80,392.81 481.52,394.66 482.01,395.67 C482.51,396.67 483.77,398.47 484.21,399.28 C484.64,400.09 485.70,401.38 485.28,401.72 C484.86,402.06 482.19,401.78 481.06,401.80 C479.93,401.83 477.96,401.86 476.84,401.89 C475.71,401.91 473.74,401.95 472.61,401.97 C471.49,401.99 469.52,402.03 468.39,402.05 C467.26,402.08 465.15,402.12 464.17,402.14 C463.18,402.16 461.42,402.19 461.00,402.20" fill="none" stroke="#bfbf00" stroke-width="1.2" stroke-linejoin="round" stroke-dasharray="1.05 1.3"/>
<path d="M469.90,245.40 C470.38,247.21 472.82,255.99 473.50,259.00 C474.18,262.01 474.69,266.53 475.00,268.00 C475.31,269.47 475.33,268.80 475.80,270.00 C476.27,271.20 478.03,275.00 478.50,277.00 C478.97,279.00 478.91,283.00 479.30,285.00 C479.69,287.00 481.11,290.53 481.40,292.00 C481.69,293.47 481.42,294.93 481.50,296.00 C481.58,297.07 481.85,299.15 482.00,300.00 C482.15,300.85 482.09,301.64 482.60,302.40 C483.11,303.16 484.95,304.98 485.80,305.70 C486.65,306.42 488.21,307.09 489.00,307.80 C489.79,308.51 491.27,309.71 491.70,311.00 C492.13,312.29 491.99,316.21 492.20,317.50 C492.41,318.79 493.22,319.99 493.30,320.70 C493.38,321.41 492.65,321.95 492.80,322.80 C492.95,323.65 493.57,326.07 494.40,327.10 C495.23,328.13 497.72,329.74 499.00,330.50 C500.28,331.26 502.76,332.25 504.00,332.80 C505.24,333.35 507.71,333.96 508.30,334.60 C508.89,335.24 508.53,337.03 508.40,337.60 C508.27,338.17 508.09,338.27 507.30,338.90 C506.51,339.53 503.74,341.49 502.50,342.30 C501.26,343.11 499.13,344.29 498.00,345.00 C496.87,345.71 495.00,346.93 494.00,347.60 C493.00,348.27 491.37,349.35 490.50,350.00 C489.63,350.65 488.26,351.74 487.50,352.50 C486.74,353.26 485.51,354.62 484.80,355.70 C484.09,356.78 482.77,359.23 482.20,360.60 C481.63,361.97 480.86,364.35 480.50,366.00 C480.14,367.65 479.70,370.95 479.50,373.00 C479.30,375.05 479.00,379.16 479.00,381.40 C479.00,383.64 479.14,387.93 479.50,389.80 C479.86,391.67 481.06,394.09 481.70,395.40 C482.34,396.71 483.69,398.76 484.30,399.60 C484.91,400.44 489.41,401.35 486.30,401.70 C483.19,402.05 464.37,402.13 461.00,402.20" fill="none" stroke="#ff1a1a" stroke-width="1.2" stroke-linejoin="round" stroke-dasharray="6.2 0.9 1.0 0.9"/>
<path d="M469.90,245.40 C470.39,247.21 472.83,255.99 473.60,259.00 C474.37,262.01 475.41,266.53 475.70,268.00 C475.99,269.47 475.17,268.80 475.80,270.00 C476.43,271.20 479.75,275.00 480.40,277.00 C481.05,279.00 480.66,283.00 480.70,285.00 C480.74,287.00 480.75,290.53 480.70,292.00 C480.65,293.47 480.39,294.93 480.30,296.00 C480.21,297.07 479.91,299.00 480.00,300.00 C480.09,301.00 480.44,302.67 481.00,303.50 C481.56,304.33 483.27,305.20 484.20,306.20 C485.13,307.20 487.21,309.64 488.00,311.00 C488.79,312.36 489.61,314.83 490.10,316.40 C490.59,317.97 491.21,321.44 491.70,322.80 C492.19,324.16 492.87,325.67 493.80,326.60 C494.73,327.53 497.34,329.01 498.70,329.80 C500.06,330.59 502.72,331.57 504.00,332.50 C505.28,333.43 507.87,336.04 508.30,336.80 C508.73,337.56 507.91,337.57 507.20,338.20 C506.49,338.83 504.16,340.65 503.00,341.50 C501.84,342.35 499.70,343.73 498.50,344.60 C497.30,345.47 495.03,347.23 494.00,348.00 C492.97,348.77 491.67,349.76 490.80,350.40 C489.93,351.04 488.25,352.05 487.50,352.80 C486.75,353.55 485.83,354.93 485.20,356.00 C484.57,357.07 483.36,359.47 482.80,360.80 C482.24,362.13 481.37,364.37 481.00,366.00 C480.63,367.63 480.20,370.95 480.00,373.00 C479.80,375.05 479.50,379.16 479.50,381.40 C479.50,383.64 479.67,387.93 480.00,389.80 C480.33,391.67 481.40,394.09 482.00,395.40 C482.60,396.71 483.93,398.76 484.50,399.60 C485.07,400.44 489.43,401.35 486.30,401.70 C483.17,402.05 464.37,402.13 461.00,402.20" fill="none" stroke="#008000" stroke-width="1.2" stroke-linejoin="round"/>
<path d="M475.00,245.40 C475.04,247.21 475.35,255.99 475.30,259.00 C475.25,262.01 474.76,266.53 474.60,268.00 C474.44,269.47 474.07,268.80 474.10,270.00 C474.13,271.20 474.61,275.00 474.80,277.00 C474.99,279.00 475.18,283.00 475.50,285.00 C475.82,287.00 476.76,290.53 477.20,292.00 C477.64,293.47 478.47,294.93 478.80,296.00 C479.13,297.07 479.55,299.00 479.70,300.00 C479.85,301.00 479.37,302.61 479.90,303.50 C480.43,304.39 482.85,305.55 483.70,306.70 C484.55,307.85 485.59,310.66 486.30,312.10 C487.01,313.54 488.28,315.93 489.00,317.50 C489.72,319.07 491.06,322.62 491.70,323.90 C492.34,325.18 492.87,326.25 493.80,327.10 C494.73,327.95 497.19,329.51 498.70,330.30 C500.21,331.09 503.67,332.28 505.10,333.00 C506.53,333.72 508.75,335.13 509.40,335.70 C510.05,336.27 509.97,337.02 510.00,337.30 C510.03,337.58 510.67,337.01 509.60,337.80 C508.53,338.59 503.55,342.16 502.00,343.20 C500.45,344.24 499.07,344.96 498.00,345.60 C496.93,346.24 494.96,347.36 494.00,348.00 C493.04,348.64 491.60,349.73 490.80,350.40 C490.00,351.07 488.75,352.25 488.00,353.00 C487.25,353.75 485.89,354.96 485.20,356.00 C484.51,357.04 483.33,359.47 482.80,360.80 C482.27,362.13 481.55,364.37 481.20,366.00 C480.85,367.63 480.40,370.95 480.20,373.00 C480.00,375.05 479.70,379.16 479.70,381.40 C479.70,383.64 479.87,387.93 480.20,389.80 C480.53,391.67 481.59,394.09 482.20,395.40 C482.81,396.71 484.21,398.76 484.80,399.60 C485.39,400.44 489.77,401.35 486.60,401.70 C483.43,402.05 464.41,402.13 461.00,402.20" fill="none" stroke="#1a1aff" stroke-width="1.2" stroke-linejoin="round" stroke-dasharray="1.05 1.3"/>
<path d="M469.70,245.40 C470.17,247.21 472.59,255.99 473.20,259.00 C473.81,262.01 474.05,266.53 474.30,268.00 C474.55,269.47 474.66,268.80 475.10,270.00 C475.54,271.20 477.32,275.00 477.60,277.00 C477.88,279.00 477.25,283.00 477.20,285.00 C477.15,287.00 477.15,290.00 477.20,292.00 C477.25,294.00 477.52,298.61 477.60,300.00 C477.68,301.39 477.43,301.51 477.80,302.40 C478.17,303.29 479.76,305.26 480.40,306.70 C481.04,308.14 482.09,311.48 482.60,313.20 C483.11,314.92 483.63,318.03 484.20,319.60 C484.77,321.17 485.97,323.79 486.90,325.00 C487.83,326.21 490.05,327.85 491.20,328.70 C492.35,329.55 494.35,330.75 495.50,331.40 C496.65,332.05 498.67,332.96 499.80,333.60 C500.93,334.24 503.28,335.68 504.00,336.20 C504.72,336.72 505.25,336.89 505.20,337.50 C505.15,338.11 504.56,339.93 503.60,340.80 C502.64,341.67 499.49,343.25 498.00,344.00 C496.51,344.75 493.57,345.87 492.40,346.40 C491.23,346.93 489.89,347.31 489.20,348.00 C488.51,348.69 487.95,350.75 487.20,351.60 C486.45,352.45 484.51,353.60 483.60,354.40 C482.69,355.20 481.04,356.75 480.40,357.60 C479.76,358.45 479.13,359.68 478.80,360.80 C478.47,361.92 478.09,364.37 477.90,366.00 C477.71,367.63 477.60,370.76 477.40,373.00 C477.20,375.24 476.48,380.40 476.40,382.80 C476.32,385.20 476.69,388.84 476.80,391.00 C476.91,393.16 476.97,397.60 477.20,399.00 C477.43,400.40 480.66,401.07 478.50,401.50 C476.34,401.93 463.33,402.11 461.00,402.20" fill="none" stroke="#000000" stroke-width="1.2" stroke-linejoin="round" stroke-dasharray="3.2 1.4"/>
<g fill="#cac400" stroke="#000" stroke-width="0.85"><circle cx="501.10" cy="314.40" r="2.85"/><circle cx="502.70" cy="326.90" r="2.85"/><circle cx="499.70" cy="333.20" r="2.85"/><circle cx="501.10" cy="339.70" r="2.85"/><circle cx="487.40" cy="352.10" r="2.85"/><circle cx="479.30" cy="364.60" r="2.85"/><circle cx="480.30" cy="370.90" r="2.85"/><circle cx="480.00" cy="377.20" r="2.85"/><circle cx="480.30" cy="383.10" r="2.85"/><circle cx="483.90" cy="389.50" r="2.85"/><circle cx="480.00" cy="395.80" r="2.85"/></g>
</g>
<rect x="461.0" y="245.4" width="80.8" height="156.99999999999997" fill="none" stroke="#3a3a3a" stroke-width="0.75"/>
<line x1="459.0" y1="402.40" x2="461.0" y2="402.40" stroke="#000" stroke-width="0.7"/>
<text x="457.70" y="404.60" text-anchor="end" class="tk">0.0</text>
<line x1="459.0" y1="371.00" x2="461.0" y2="371.00" stroke="#000" stroke-width="0.7"/>
<text x="457.70" y="373.20" text-anchor="end" class="tk">0.5</text>
<line x1="459.0" y1="339.60" x2="461.0" y2="339.60" stroke="#000" stroke-width="0.7"/>
<text x="457.70" y="341.80" text-anchor="end" class="tk">1.0</text>
<line x1="459.0" y1="308.20" x2="461.0" y2="308.20" stroke="#000" stroke-width="0.7"/>
<text x="457.70" y="310.40" text-anchor="end" class="tk">1.5</text>
<line x1="459.0" y1="276.80" x2="461.0" y2="276.80" stroke="#000" stroke-width="0.7"/>
<text x="457.70" y="279.00" text-anchor="end" class="tk">2.0</text>
<line x1="459.0" y1="245.40" x2="461.0" y2="245.40" stroke="#000" stroke-width="0.7"/>
<text x="457.70" y="247.60" text-anchor="end" class="tk">2.5</text>
<line x1="461.00" y1="402.4" x2="461.00" y2="404.2" stroke="#000" stroke-width="0.7"/>
<text x="461.00" y="409.70" text-anchor="middle" class="tk">0</text>
<line x1="501.40" y1="402.4" x2="501.40" y2="404.2" stroke="#000" stroke-width="0.7"/>
<text x="501.40" y="409.70" text-anchor="middle" class="tk">1</text>
<line x1="541.80" y1="402.4" x2="541.80" y2="404.2" stroke="#000" stroke-width="0.7"/>
<text x="541.80" y="409.70" text-anchor="middle" class="tk">2</text>
<text x="441.40" y="230.80" class="pl">(j)</text>
<g transform="translate(448.20 324.00) rotate(-90)"><text x="-8.1" y="0" class="al" font-style="italic">z</text><text x="-3.0" y="2.4" class="sly">/</text><text x="2.2" y="0" class="al" textLength="6.3" lengthAdjust="spacingAndGlyphs">H</text></g>
<text x="468.45" y="421.00" class="br">⟨</text>
<text x="473.05" y="419.90" class="al">TKE</text>
<text x="492.85" y="421.00" class="br">⟩</text>
<text x="497.45" y="422.10" class="sl">/</text>
<text x="502.65" y="421.00" class="br">⟨</text>
<text x="507.35" y="419.90" class="al">TKE</text>
<text x="526.05" y="421.50" class="sb">s</text>
<text x="528.95" y="421.00" class="br">⟩</text>
<line x1="472.45" y1="411.30" x2="493.15" y2="411.30" stroke="#333" stroke-width="0.7"/>
<line x1="506.65" y1="411.10" x2="527.25" y2="411.10" stroke="#333" stroke-width="0.7"/>
<circle cx="38.9" cy="39.0" r="2.85" fill="#cac400" stroke="#000" stroke-width="0.85"/>
<text x="52.8" y="41.80" class="lg">Wind tunnel</text>
<path d="M30.60,49.82 L46.00,49.82" fill="none" stroke="#ff1a1a" stroke-width="1.2" stroke-linejoin="round" stroke-dasharray="6.2 0.9 1.0 0.9"/>
<text x="52.8" y="52.57" class="lg">R-base</text>
<path d="M30.60,60.64 L46.00,60.64" fill="none" stroke="#1a1aff" stroke-width="1.2" stroke-linejoin="round" stroke-dasharray="1.05 1.3"/>
<text x="52.8" y="63.39" class="lg">R-Re</text>
<path d="M30.60,71.46 L46.00,71.46" fill="none" stroke="#008000" stroke-width="1.2" stroke-linejoin="round"/>
<text x="52.8" y="74.21" class="lg">R-grid1</text>
<path d="M30.60,82.28 L46.00,82.28" fill="none" stroke="#bfbf00" stroke-width="1.2" stroke-linejoin="round" stroke-dasharray="1.05 1.3"/>
<text x="52.8" y="85.03" class="lg">R-grid2</text>
<path d="M30.60,93.10 L46.00,93.10" fill="none" stroke="#000000" stroke-width="1.2" stroke-linejoin="round" stroke-dasharray="3.2 1.4"/>
<text x="52.8" y="95.85" class="lg">R-wall</text>
</svg>
</body></html>
